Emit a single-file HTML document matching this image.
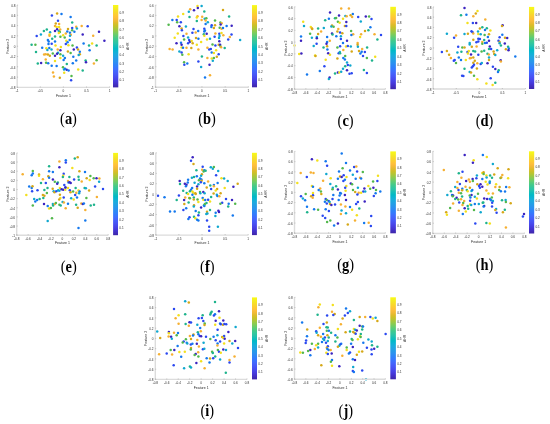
<!DOCTYPE html>
<html><head><meta charset="utf-8"><style>
html,body{margin:0;padding:0;background:#fff;}
svg{display:block;}
.tl{font-family:"Liberation Sans",Arial,sans-serif;font-size:3.1px;fill:#2a2a2a;}
.al{font-family:"Liberation Sans",Arial,sans-serif;font-size:3.5px;fill:#2a2a2a;}
.cap{font-family:"Liberation Serif","Times New Roman",serif;font-size:16.4px;fill:#000;}
</style></head><body>
<svg width="550" height="424" viewBox="0 0 550 424">
<rect width="550" height="424" fill="#fff"/>
<defs><linearGradient id="par" x1="0" y1="1" x2="0" y2="0"><stop offset="0.000" stop-color="#3e26a8"/><stop offset="0.031" stop-color="#422ebf"/><stop offset="0.062" stop-color="#4536d5"/><stop offset="0.094" stop-color="#4741e5"/><stop offset="0.125" stop-color="#484cef"/><stop offset="0.156" stop-color="#4757f7"/><stop offset="0.188" stop-color="#4562fc"/><stop offset="0.219" stop-color="#3f6efe"/><stop offset="0.250" stop-color="#347afd"/><stop offset="0.281" stop-color="#2e85f8"/><stop offset="0.312" stop-color="#2c90f0"/><stop offset="0.344" stop-color="#269ae9"/><stop offset="0.375" stop-color="#21a3e3"/><stop offset="0.406" stop-color="#1aacdd"/><stop offset="0.438" stop-color="#0cb3d3"/><stop offset="0.469" stop-color="#01b9c6"/><stop offset="0.500" stop-color="#12beb9"/><stop offset="0.531" stop-color="#28c2ab"/><stop offset="0.562" stop-color="#34c79c"/><stop offset="0.594" stop-color="#44ca8a"/><stop offset="0.625" stop-color="#5ccc76"/><stop offset="0.656" stop-color="#77cc60"/><stop offset="0.688" stop-color="#94ca4a"/><stop offset="0.719" stop-color="#afc637"/><stop offset="0.750" stop-color="#c8c129"/><stop offset="0.781" stop-color="#debc2a"/><stop offset="0.812" stop-color="#f1ba37"/><stop offset="0.844" stop-color="#febe3c"/><stop offset="0.875" stop-color="#feca33"/><stop offset="0.906" stop-color="#f9d62d"/><stop offset="0.938" stop-color="#f5e327"/><stop offset="0.969" stop-color="#f6ef20"/><stop offset="1.000" stop-color="#f9fb15"/></linearGradient><filter id="bl" x="-5%" y="-5%" width="110%" height="110%"><feGaussianBlur stdDeviation="0.3"/></filter></defs>
<g><circle cx="51.9" cy="15.5" r="1.25" fill="#2a48f0"/><circle cx="57.1" cy="13.4" r="1.25" fill="#d6a818"/><circle cx="61.5" cy="13.9" r="1.25" fill="#1478ee"/><circle cx="58.0" cy="20.8" r="1.25" fill="#2a48f0"/><circle cx="55.8" cy="23.5" r="1.25" fill="#d6a818"/><circle cx="59.1" cy="23.9" r="1.25" fill="#f6b032"/><circle cx="55.0" cy="26.0" r="1.25" fill="#f6b032"/><circle cx="56.6" cy="27.1" r="1.25" fill="#f3e01c"/><circle cx="59.1" cy="27.1" r="1.25" fill="#f3e01c"/><circle cx="57.1" cy="29.3" r="1.25" fill="#3b23c0"/><circle cx="55.0" cy="31.1" r="1.25" fill="#3b23c0"/><circle cx="58.8" cy="30.9" r="1.25" fill="#10a8cf"/><circle cx="60.2" cy="29.5" r="1.25" fill="#f6b032"/><circle cx="59.8" cy="32.0" r="1.25" fill="#52b84c"/><circle cx="58.8" cy="33.1" r="1.25" fill="#f3e01c"/><circle cx="46.8" cy="29.5" r="1.25" fill="#1eb38c"/><circle cx="43.9" cy="30.9" r="1.25" fill="#1eb38c"/><circle cx="50.1" cy="32.2" r="1.25" fill="#10a8cf"/><circle cx="49.5" cy="34.5" r="1.25" fill="#f3e01c"/><circle cx="49.5" cy="35.8" r="1.25" fill="#f6b032"/><circle cx="40.9" cy="34.5" r="1.25" fill="#10a8cf"/><circle cx="36.7" cy="36.0" r="1.25" fill="#2a48f0"/><circle cx="55.0" cy="36.4" r="1.25" fill="#1eb38c"/><circle cx="60.4" cy="36.7" r="1.25" fill="#52b84c"/><circle cx="63.1" cy="35.2" r="1.25" fill="#f3e01c"/><circle cx="64.7" cy="37.4" r="1.25" fill="#52b84c"/><circle cx="65.8" cy="33.6" r="1.25" fill="#f6b032"/><circle cx="52.2" cy="38.8" r="1.25" fill="#1eb38c"/><circle cx="47.9" cy="39.9" r="1.25" fill="#1478ee"/><circle cx="48.7" cy="41.4" r="1.25" fill="#1478ee"/><circle cx="55.0" cy="41.6" r="1.25" fill="#1478ee"/><circle cx="48.5" cy="43.9" r="1.25" fill="#1478ee"/><circle cx="51.7" cy="43.7" r="1.25" fill="#2a48f0"/><circle cx="31.6" cy="44.8" r="1.25" fill="#1eb38c"/><circle cx="35.4" cy="44.7" r="1.25" fill="#52b84c"/><circle cx="55.5" cy="45.6" r="1.25" fill="#f3e01c"/><circle cx="65.8" cy="43.9" r="1.25" fill="#2a48f0"/><circle cx="66.3" cy="40.7" r="1.25" fill="#f3e01c"/><circle cx="70.6" cy="17.0" r="1.25" fill="#1478ee"/><circle cx="72.2" cy="22.6" r="1.25" fill="#1eb38c"/><circle cx="76.2" cy="26.8" r="1.25" fill="#f6b032"/><circle cx="81.7" cy="26.0" r="1.25" fill="#f6b032"/><circle cx="87.7" cy="26.2" r="1.25" fill="#2a48f0"/><circle cx="72.2" cy="28.0" r="1.25" fill="#2a48f0"/><circle cx="76.9" cy="28.4" r="1.25" fill="#10a8cf"/><circle cx="68.0" cy="29.1" r="1.25" fill="#d6a818"/><circle cx="72.2" cy="30.2" r="1.25" fill="#52b84c"/><circle cx="67.3" cy="31.5" r="1.25" fill="#1478ee"/><circle cx="74.4" cy="31.7" r="1.25" fill="#1478ee"/><circle cx="70.0" cy="32.8" r="1.25" fill="#1478ee"/><circle cx="99.0" cy="31.8" r="1.25" fill="#3b23c0"/><circle cx="82.7" cy="34.5" r="1.25" fill="#3b23c0"/><circle cx="93.2" cy="35.8" r="1.25" fill="#f6b032"/><circle cx="70.8" cy="34.7" r="1.25" fill="#f6b032"/><circle cx="70.0" cy="35.8" r="1.25" fill="#10a8cf"/><circle cx="69.7" cy="39.9" r="1.25" fill="#1478ee"/><circle cx="67.6" cy="42.3" r="1.25" fill="#1478ee"/><circle cx="104.4" cy="40.8" r="1.25" fill="#3b23c0"/><circle cx="83.6" cy="43.6" r="1.25" fill="#1478ee"/><circle cx="92.1" cy="43.6" r="1.25" fill="#f3e01c"/><circle cx="68.4" cy="45.3" r="1.25" fill="#f3e01c"/><circle cx="72.5" cy="45.6" r="1.25" fill="#52b84c"/><circle cx="89.0" cy="45.6" r="1.25" fill="#1eb38c"/><circle cx="96.6" cy="45.6" r="1.25" fill="#1eb38c"/><circle cx="60.9" cy="47.0" r="1.25" fill="#f3e01c"/><circle cx="42.2" cy="47.8" r="1.25" fill="#1478ee"/><circle cx="46.3" cy="48.3" r="1.25" fill="#f3e01c"/><circle cx="49.3" cy="48.1" r="1.25" fill="#1478ee"/><circle cx="51.5" cy="49.4" r="1.25" fill="#10a8cf"/><circle cx="47.4" cy="50.0" r="1.25" fill="#10a8cf"/><circle cx="57.7" cy="49.4" r="1.25" fill="#f6b032"/><circle cx="60.4" cy="50.3" r="1.25" fill="#3b23c0"/><circle cx="36.0" cy="52.1" r="1.25" fill="#1eb38c"/><circle cx="52.8" cy="53.5" r="1.25" fill="#52b84c"/><circle cx="58.0" cy="52.7" r="1.25" fill="#10a8cf"/><circle cx="57.1" cy="53.8" r="1.25" fill="#3b23c0"/><circle cx="60.4" cy="54.3" r="1.25" fill="#52b84c"/><circle cx="44.1" cy="54.6" r="1.25" fill="#f6b032"/><circle cx="45.7" cy="54.3" r="1.25" fill="#f6b032"/><circle cx="47.9" cy="54.6" r="1.25" fill="#d6a818"/><circle cx="49.8" cy="55.7" r="1.25" fill="#d6a818"/><circle cx="55.0" cy="55.7" r="1.25" fill="#3b23c0"/><circle cx="63.1" cy="55.7" r="1.25" fill="#10a8cf"/><circle cx="60.4" cy="58.1" r="1.25" fill="#f3e01c"/><circle cx="64.9" cy="57.9" r="1.25" fill="#1478ee"/><circle cx="45.7" cy="59.4" r="1.25" fill="#f6b032"/><circle cx="55.0" cy="61.0" r="1.25" fill="#f3e01c"/><circle cx="63.6" cy="60.1" r="1.25" fill="#1478ee"/><circle cx="41.1" cy="63.0" r="1.25" fill="#3b23c0"/><circle cx="37.8" cy="63.5" r="1.25" fill="#1eb38c"/><circle cx="46.1" cy="62.7" r="1.25" fill="#52b84c"/><circle cx="48.2" cy="63.2" r="1.25" fill="#1478ee"/><circle cx="51.7" cy="65.7" r="1.25" fill="#1478ee"/><circle cx="56.6" cy="66.0" r="1.25" fill="#1478ee"/><circle cx="63.0" cy="67.2" r="1.25" fill="#52b84c"/><circle cx="64.0" cy="69.5" r="1.25" fill="#10a8cf"/><circle cx="66.7" cy="69.8" r="1.25" fill="#3b23c0"/><circle cx="53.0" cy="72.4" r="1.25" fill="#f6b032"/><circle cx="64.2" cy="72.7" r="1.25" fill="#f3e01c"/><circle cx="53.9" cy="76.5" r="1.25" fill="#f6b032"/><circle cx="59.8" cy="77.8" r="1.25" fill="#d6a818"/><circle cx="76.9" cy="47.5" r="1.25" fill="#2a48f0"/><circle cx="73.8" cy="49.6" r="1.25" fill="#3b23c0"/><circle cx="78.0" cy="49.6" r="1.25" fill="#d6a818"/><circle cx="89.6" cy="50.3" r="1.25" fill="#1478ee"/><circle cx="67.9" cy="51.6" r="1.25" fill="#d6a818"/><circle cx="70.6" cy="52.9" r="1.25" fill="#52b84c"/><circle cx="79.8" cy="51.8" r="1.25" fill="#1478ee"/><circle cx="79.8" cy="54.3" r="1.25" fill="#d6a818"/><circle cx="78.7" cy="55.1" r="1.25" fill="#10a8cf"/><circle cx="73.3" cy="56.8" r="1.25" fill="#1478ee"/><circle cx="76.2" cy="60.5" r="1.25" fill="#1478ee"/><circle cx="85.6" cy="60.5" r="1.25" fill="#1eb38c"/><circle cx="86.0" cy="62.2" r="1.25" fill="#3b23c0"/><circle cx="96.6" cy="60.3" r="1.25" fill="#52b84c"/><circle cx="93.9" cy="63.5" r="1.25" fill="#f6b032"/><circle cx="66.8" cy="64.1" r="1.25" fill="#1eb38c"/><circle cx="72.8" cy="63.3" r="1.25" fill="#1478ee"/><circle cx="65.0" cy="68.7" r="1.25" fill="#1478ee"/><circle cx="68.6" cy="70.6" r="1.25" fill="#1478ee"/><circle cx="78.2" cy="69.5" r="1.25" fill="#f3e01c"/><circle cx="82.7" cy="70.6" r="1.25" fill="#1eb38c"/><circle cx="71.5" cy="76.0" r="1.25" fill="#52b84c"/><circle cx="71.1" cy="80.3" r="1.25" fill="#2a48f0"/><path d="M17.20 5.00V87.40H109.60" fill="none" stroke="#dcdcdc" stroke-width="1.4"/><path d="M17.20 87.40v-0.9M40.30 87.40v-0.9M63.40 87.40v-0.9M86.50 87.40v-0.9M109.60 87.40v-0.9M17.20 87.40h0.9M17.20 77.10h0.9M17.20 66.80h0.9M17.20 56.50h0.9M17.20 46.20h0.9M17.20 35.90h0.9M17.20 25.60h0.9M17.20 15.30h0.9M17.20 5.00h0.9" stroke="#909090" stroke-width="0.5"/><rect x="113.00" y="5.00" width="5.30" height="82.40" fill="url(#par)"/></g><g filter="url(#bl)"><text x="17.20" y="92.20" class="tl" text-anchor="middle">-1</text><text x="40.30" y="92.20" class="tl" text-anchor="middle">-0.5</text><text x="63.40" y="92.20" class="tl" text-anchor="middle">0</text><text x="86.50" y="92.20" class="tl" text-anchor="middle">0.5</text><text x="109.60" y="92.20" class="tl" text-anchor="middle">1</text><text x="15.50" y="89.20" class="tl" text-anchor="end">-0.8</text><text x="15.50" y="78.90" class="tl" text-anchor="end">-0.6</text><text x="15.50" y="68.60" class="tl" text-anchor="end">-0.4</text><text x="15.50" y="58.30" class="tl" text-anchor="end">-0.2</text><text x="15.50" y="48.00" class="tl" text-anchor="end">0</text><text x="15.50" y="37.70" class="tl" text-anchor="end">0.2</text><text x="15.50" y="27.40" class="tl" text-anchor="end">0.4</text><text x="15.50" y="17.10" class="tl" text-anchor="end">0.6</text><text x="15.50" y="6.80" class="tl" text-anchor="end">0.8</text><text x="63.40" y="96.60" class="al" text-anchor="middle">Feature 1</text><text class="al" text-anchor="middle" transform="translate(9.20 46.20) rotate(-90)">Feature 2</text><text x="119.60" y="81.44" class="tl">0.1</text><text x="119.60" y="72.98" class="tl">0.2</text><text x="119.60" y="64.52" class="tl">0.3</text><text x="119.60" y="56.06" class="tl">0.4</text><text x="119.60" y="47.60" class="tl">0.5</text><text x="119.60" y="39.14" class="tl">0.6</text><text x="119.60" y="30.68" class="tl">0.7</text><text x="119.60" y="22.22" class="tl">0.8</text><text x="119.60" y="13.76" class="tl">0.9</text><text class="al" text-anchor="middle" transform="translate(128.80 46.20) rotate(-90)">AHR</text></g><text class="cap" text-anchor="middle" transform="translate(68.50 123.50) scale(0.88 1)">(<tspan font-weight="bold">a</tspan>)</text>
<g><circle cx="197.5" cy="6.0" r="1.25" fill="#f3e01c"/><circle cx="201.6" cy="6.0" r="1.25" fill="#10a8cf"/><circle cx="197.8" cy="8.1" r="1.25" fill="#3b23c0"/><circle cx="190.2" cy="9.2" r="1.25" fill="#f6b032"/><circle cx="194.0" cy="10.3" r="1.25" fill="#3b23c0"/><circle cx="188.8" cy="11.7" r="1.25" fill="#10a8cf"/><circle cx="204.3" cy="11.4" r="1.25" fill="#1eb38c"/><circle cx="183.2" cy="14.1" r="1.25" fill="#f3e01c"/><circle cx="178.0" cy="16.5" r="1.25" fill="#f3e01c"/><circle cx="189.5" cy="17.0" r="1.25" fill="#1eb38c"/><circle cx="197.5" cy="16.3" r="1.25" fill="#f6b032"/><circle cx="196.8" cy="17.6" r="1.25" fill="#f3e01c"/><circle cx="202.2" cy="16.8" r="1.25" fill="#f6b032"/><circle cx="204.7" cy="18.7" r="1.25" fill="#10a8cf"/><circle cx="201.6" cy="20.1" r="1.25" fill="#f6b032"/><circle cx="196.8" cy="21.1" r="1.25" fill="#1eb38c"/><circle cx="172.4" cy="20.1" r="1.25" fill="#1478ee"/><circle cx="176.7" cy="20.1" r="1.25" fill="#2a48f0"/><circle cx="177.2" cy="22.2" r="1.25" fill="#52b84c"/><circle cx="180.8" cy="22.2" r="1.25" fill="#2a48f0"/><circle cx="168.6" cy="24.7" r="1.25" fill="#52b84c"/><circle cx="179.4" cy="26.2" r="1.25" fill="#3b23c0"/><circle cx="185.9" cy="26.6" r="1.25" fill="#10a8cf"/><circle cx="181.6" cy="28.4" r="1.25" fill="#d6a818"/><circle cx="181.9" cy="30.2" r="1.25" fill="#2a48f0"/><circle cx="193.5" cy="29.0" r="1.25" fill="#2a48f0"/><circle cx="198.2" cy="30.9" r="1.25" fill="#1478ee"/><circle cx="192.4" cy="32.8" r="1.25" fill="#2a48f0"/><circle cx="195.7" cy="32.5" r="1.25" fill="#f6b032"/><circle cx="204.3" cy="28.7" r="1.25" fill="#2a48f0"/><circle cx="204.3" cy="31.5" r="1.25" fill="#1478ee"/><circle cx="203.8" cy="34.2" r="1.25" fill="#1eb38c"/><circle cx="204.3" cy="35.8" r="1.25" fill="#f3e01c"/><circle cx="177.8" cy="33.6" r="1.25" fill="#f3e01c"/><circle cx="186.5" cy="33.8" r="1.25" fill="#f6b032"/><circle cx="183.4" cy="36.0" r="1.25" fill="#2a48f0"/><circle cx="188.1" cy="37.4" r="1.25" fill="#10a8cf"/><circle cx="174.7" cy="37.7" r="1.25" fill="#f3e01c"/><circle cx="184.1" cy="39.6" r="1.25" fill="#52b84c"/><circle cx="196.0" cy="38.0" r="1.25" fill="#d6a818"/><circle cx="198.4" cy="38.8" r="1.25" fill="#1478ee"/><circle cx="189.2" cy="40.1" r="1.25" fill="#2a48f0"/><circle cx="189.9" cy="41.8" r="1.25" fill="#3b23c0"/><circle cx="191.7" cy="41.0" r="1.25" fill="#f3e01c"/><circle cx="192.7" cy="43.2" r="1.25" fill="#d6a818"/><circle cx="188.1" cy="43.2" r="1.25" fill="#2a48f0"/><circle cx="176.5" cy="43.2" r="1.25" fill="#3b23c0"/><circle cx="181.0" cy="42.8" r="1.25" fill="#1478ee"/><circle cx="181.6" cy="44.7" r="1.25" fill="#3b23c0"/><circle cx="196.8" cy="44.7" r="1.25" fill="#f3e01c"/><circle cx="201.1" cy="42.1" r="1.25" fill="#f3e01c"/><circle cx="223.0" cy="10.0" r="1.25" fill="#d6a818"/><circle cx="229.1" cy="16.5" r="1.25" fill="#1eb38c"/><circle cx="206.3" cy="18.2" r="1.25" fill="#52b84c"/><circle cx="205.6" cy="20.6" r="1.25" fill="#f6b032"/><circle cx="207.8" cy="22.2" r="1.25" fill="#10a8cf"/><circle cx="215.0" cy="20.6" r="1.25" fill="#52b84c"/><circle cx="220.4" cy="22.6" r="1.25" fill="#52b84c"/><circle cx="221.7" cy="23.3" r="1.25" fill="#f6b032"/><circle cx="220.6" cy="24.4" r="1.25" fill="#3b23c0"/><circle cx="205.6" cy="23.9" r="1.25" fill="#1478ee"/><circle cx="211.7" cy="25.2" r="1.25" fill="#2a48f0"/><circle cx="211.4" cy="26.9" r="1.25" fill="#1478ee"/><circle cx="215.0" cy="25.2" r="1.25" fill="#d6a818"/><circle cx="213.9" cy="28.0" r="1.25" fill="#d6a818"/><circle cx="219.7" cy="27.7" r="1.25" fill="#52b84c"/><circle cx="221.5" cy="28.7" r="1.25" fill="#f6b032"/><circle cx="223.0" cy="28.0" r="1.25" fill="#1478ee"/><circle cx="226.6" cy="26.0" r="1.25" fill="#1478ee"/><circle cx="231.7" cy="25.8" r="1.25" fill="#3b23c0"/><circle cx="204.9" cy="30.4" r="1.25" fill="#1478ee"/><circle cx="206.7" cy="33.8" r="1.25" fill="#3b23c0"/><circle cx="215.4" cy="33.4" r="1.25" fill="#f6b032"/><circle cx="219.3" cy="33.8" r="1.25" fill="#2a48f0"/><circle cx="221.5" cy="33.1" r="1.25" fill="#f3e01c"/><circle cx="223.3" cy="35.2" r="1.25" fill="#f6b032"/><circle cx="219.5" cy="36.0" r="1.25" fill="#10a8cf"/><circle cx="214.6" cy="36.7" r="1.25" fill="#2a48f0"/><circle cx="231.5" cy="34.5" r="1.25" fill="#2a48f0"/><circle cx="229.8" cy="36.9" r="1.25" fill="#f6b032"/><circle cx="219.0" cy="38.0" r="1.25" fill="#10a8cf"/><circle cx="207.0" cy="39.6" r="1.25" fill="#f3e01c"/><circle cx="210.0" cy="38.8" r="1.25" fill="#10a8cf"/><circle cx="228.2" cy="39.6" r="1.25" fill="#2a48f0"/><circle cx="240.1" cy="40.1" r="1.25" fill="#10a8cf"/><circle cx="219.3" cy="41.2" r="1.25" fill="#3b23c0"/><circle cx="212.5" cy="44.5" r="1.25" fill="#52b84c"/><circle cx="215.4" cy="45.5" r="1.25" fill="#2a48f0"/><circle cx="218.7" cy="44.7" r="1.25" fill="#d6a818"/><circle cx="220.1" cy="44.7" r="1.25" fill="#3b23c0"/><circle cx="169.6" cy="48.9" r="1.25" fill="#f6b032"/><circle cx="172.6" cy="49.6" r="1.25" fill="#f6b032"/><circle cx="181.6" cy="47.5" r="1.25" fill="#f3e01c"/><circle cx="183.0" cy="47.8" r="1.25" fill="#1478ee"/><circle cx="186.5" cy="47.8" r="1.25" fill="#f6b032"/><circle cx="191.3" cy="48.1" r="1.25" fill="#d6a818"/><circle cx="198.4" cy="49.6" r="1.25" fill="#f6b032"/><circle cx="179.4" cy="51.4" r="1.25" fill="#10a8cf"/><circle cx="181.6" cy="52.5" r="1.25" fill="#2a48f0"/><circle cx="182.3" cy="54.8" r="1.25" fill="#52b84c"/><circle cx="188.6" cy="54.3" r="1.25" fill="#f3e01c"/><circle cx="201.9" cy="56.5" r="1.25" fill="#1eb38c"/><circle cx="184.1" cy="62.2" r="1.25" fill="#52b84c"/><circle cx="187.3" cy="63.5" r="1.25" fill="#1478ee"/><circle cx="184.3" cy="64.8" r="1.25" fill="#2a48f0"/><circle cx="198.4" cy="61.4" r="1.25" fill="#2a48f0"/><circle cx="201.1" cy="67.0" r="1.25" fill="#10a8cf"/><circle cx="205.0" cy="77.6" r="1.25" fill="#1478ee"/><circle cx="220.6" cy="46.4" r="1.25" fill="#52b84c"/><circle cx="221.1" cy="47.3" r="1.25" fill="#f6b032"/><circle cx="224.7" cy="48.1" r="1.25" fill="#1eb38c"/><circle cx="207.4" cy="47.8" r="1.25" fill="#f6b032"/><circle cx="210.8" cy="48.9" r="1.25" fill="#2a48f0"/><circle cx="209.2" cy="49.6" r="1.25" fill="#2a48f0"/><circle cx="216.1" cy="50.3" r="1.25" fill="#f3e01c"/><circle cx="211.7" cy="52.5" r="1.25" fill="#1478ee"/><circle cx="213.9" cy="52.9" r="1.25" fill="#f3e01c"/><circle cx="218.7" cy="54.3" r="1.25" fill="#2a48f0"/><circle cx="207.4" cy="57.9" r="1.25" fill="#f6b032"/><circle cx="211.7" cy="58.6" r="1.25" fill="#f3e01c"/><circle cx="213.9" cy="57.9" r="1.25" fill="#52b84c"/><circle cx="216.8" cy="56.8" r="1.25" fill="#d6a818"/><circle cx="212.8" cy="60.8" r="1.25" fill="#10a8cf"/><circle cx="209.5" cy="64.8" r="1.25" fill="#3b23c0"/><circle cx="210.0" cy="75.2" r="1.25" fill="#f6b032"/><path d="M155.50 5.10V87.30H248.40" fill="none" stroke="#dcdcdc" stroke-width="1.4"/><path d="M155.50 87.30v-0.9M178.72 87.30v-0.9M201.95 87.30v-0.9M225.18 87.30v-0.9M248.40 87.30v-0.9M155.50 87.30h0.9M155.50 77.03h0.9M155.50 66.75h0.9M155.50 56.48h0.9M155.50 46.20h0.9M155.50 35.92h0.9M155.50 25.65h0.9M155.50 15.38h0.9M155.50 5.10h0.9" stroke="#909090" stroke-width="0.5"/><rect x="252.00" y="5.10" width="5.00" height="82.20" fill="url(#par)"/></g><g filter="url(#bl)"><text x="155.50" y="92.10" class="tl" text-anchor="middle">-1</text><text x="178.72" y="92.10" class="tl" text-anchor="middle">-0.5</text><text x="201.95" y="92.10" class="tl" text-anchor="middle">0</text><text x="225.18" y="92.10" class="tl" text-anchor="middle">0.5</text><text x="248.40" y="92.10" class="tl" text-anchor="middle">1</text><text x="153.80" y="89.10" class="tl" text-anchor="end">-1</text><text x="153.80" y="78.83" class="tl" text-anchor="end">-0.8</text><text x="153.80" y="68.55" class="tl" text-anchor="end">-0.6</text><text x="153.80" y="58.27" class="tl" text-anchor="end">-0.4</text><text x="153.80" y="48.00" class="tl" text-anchor="end">-0.2</text><text x="153.80" y="37.72" class="tl" text-anchor="end">0</text><text x="153.80" y="27.45" class="tl" text-anchor="end">0.2</text><text x="153.80" y="17.18" class="tl" text-anchor="end">0.4</text><text x="153.80" y="6.90" class="tl" text-anchor="end">0.6</text><text x="201.95" y="96.50" class="al" text-anchor="middle">Feature 1</text><text class="al" text-anchor="middle" transform="translate(147.50 46.20) rotate(-90)">Feature 2</text><text x="258.30" y="81.36" class="tl">0.1</text><text x="258.30" y="72.92" class="tl">0.2</text><text x="258.30" y="64.48" class="tl">0.3</text><text x="258.30" y="56.04" class="tl">0.4</text><text x="258.30" y="47.60" class="tl">0.5</text><text x="258.30" y="39.16" class="tl">0.6</text><text x="258.30" y="30.72" class="tl">0.7</text><text x="258.30" y="22.28" class="tl">0.8</text><text x="258.30" y="13.84" class="tl">0.9</text><text class="al" text-anchor="middle" transform="translate(267.50 46.20) rotate(-90)">AHR</text></g><text class="cap" text-anchor="middle" transform="translate(207.10 123.60) scale(0.88 1)">(<tspan font-weight="bold">b</tspan>)</text>
<g><circle cx="341.2" cy="8.5" r="1.25" fill="#f6b032"/><circle cx="330.0" cy="12.6" r="1.25" fill="#3b23c0"/><circle cx="339.0" cy="15.6" r="1.25" fill="#3b23c0"/><circle cx="328.9" cy="18.8" r="1.25" fill="#1478ee"/><circle cx="335.0" cy="18.3" r="1.25" fill="#1eb38c"/><circle cx="336.1" cy="18.1" r="1.25" fill="#52b84c"/><circle cx="343.0" cy="18.8" r="1.25" fill="#f3e01c"/><circle cx="325.2" cy="20.2" r="1.25" fill="#1eb38c"/><circle cx="303.2" cy="21.7" r="1.25" fill="#f3e01c"/><circle cx="337.9" cy="21.7" r="1.25" fill="#52b84c"/><circle cx="339.6" cy="22.8" r="1.25" fill="#f3e01c"/><circle cx="304.0" cy="26.1" r="1.25" fill="#10a8cf"/><circle cx="332.0" cy="25.6" r="1.25" fill="#d6a818"/><circle cx="331.4" cy="26.4" r="1.25" fill="#10a8cf"/><circle cx="333.6" cy="26.7" r="1.25" fill="#52b84c"/><circle cx="310.8" cy="26.9" r="1.25" fill="#f3e01c"/><circle cx="311.9" cy="28.2" r="1.25" fill="#f6b032"/><circle cx="312.2" cy="29.1" r="1.25" fill="#d6a818"/><circle cx="318.1" cy="28.4" r="1.25" fill="#1eb38c"/><circle cx="323.8" cy="28.0" r="1.25" fill="#10a8cf"/><circle cx="338.3" cy="29.1" r="1.25" fill="#f6b032"/><circle cx="337.4" cy="31.5" r="1.25" fill="#d6a818"/><circle cx="340.1" cy="32.4" r="1.25" fill="#2a48f0"/><circle cx="342.3" cy="33.2" r="1.25" fill="#d6a818"/><circle cx="321.1" cy="31.5" r="1.25" fill="#f6b032"/><circle cx="310.1" cy="33.7" r="1.25" fill="#52b84c"/><circle cx="318.1" cy="34.0" r="1.25" fill="#d6a818"/><circle cx="332.0" cy="33.5" r="1.25" fill="#3b23c0"/><circle cx="332.5" cy="34.5" r="1.25" fill="#1eb38c"/><circle cx="336.3" cy="36.2" r="1.25" fill="#1478ee"/><circle cx="340.9" cy="36.2" r="1.25" fill="#10a8cf"/><circle cx="340.9" cy="39.1" r="1.25" fill="#2a48f0"/><circle cx="301.0" cy="36.5" r="1.25" fill="#1478ee"/><circle cx="311.9" cy="37.8" r="1.25" fill="#10a8cf"/><circle cx="316.8" cy="36.9" r="1.25" fill="#10a8cf"/><circle cx="316.8" cy="38.3" r="1.25" fill="#3b23c0"/><circle cx="327.1" cy="36.9" r="1.25" fill="#1478ee"/><circle cx="301.0" cy="40.8" r="1.25" fill="#3b23c0"/><circle cx="329.8" cy="40.8" r="1.25" fill="#f6b032"/><circle cx="327.1" cy="41.9" r="1.25" fill="#1478ee"/><circle cx="326.5" cy="43.8" r="1.25" fill="#3b23c0"/><circle cx="316.6" cy="43.8" r="1.25" fill="#2a48f0"/><circle cx="343.0" cy="43.0" r="1.25" fill="#1478ee"/><circle cx="294.5" cy="45.6" r="1.25" fill="#f3e01c"/><circle cx="313.7" cy="45.9" r="1.25" fill="#10a8cf"/><circle cx="327.1" cy="46.3" r="1.25" fill="#d6a818"/><circle cx="323.5" cy="47.6" r="1.25" fill="#1eb38c"/><circle cx="340.1" cy="46.3" r="1.25" fill="#2a48f0"/><circle cx="337.4" cy="47.6" r="1.25" fill="#52b84c"/><circle cx="348.9" cy="8.5" r="1.25" fill="#f6b032"/><circle cx="352.8" cy="13.9" r="1.25" fill="#1478ee"/><circle cx="350.6" cy="15.2" r="1.25" fill="#d6a818"/><circle cx="352.1" cy="17.0" r="1.25" fill="#f6b032"/><circle cx="345.4" cy="16.1" r="1.25" fill="#10a8cf"/><circle cx="346.7" cy="16.3" r="1.25" fill="#f6b032"/><circle cx="358.2" cy="17.0" r="1.25" fill="#2a48f0"/><circle cx="365.8" cy="16.6" r="1.25" fill="#3b23c0"/><circle cx="369.1" cy="16.6" r="1.25" fill="#52b84c"/><circle cx="371.5" cy="19.1" r="1.25" fill="#2a48f0"/><circle cx="360.8" cy="21.5" r="1.25" fill="#10a8cf"/><circle cx="346.3" cy="22.1" r="1.25" fill="#3b23c0"/><circle cx="344.9" cy="26.1" r="1.25" fill="#d6a818"/><circle cx="346.3" cy="26.1" r="1.25" fill="#2a48f0"/><circle cx="370.4" cy="27.2" r="1.25" fill="#1478ee"/><circle cx="351.1" cy="31.1" r="1.25" fill="#52b84c"/><circle cx="365.0" cy="31.1" r="1.25" fill="#d6a818"/><circle cx="368.4" cy="30.2" r="1.25" fill="#1eb38c"/><circle cx="353.2" cy="34.3" r="1.25" fill="#f6b032"/><circle cx="351.4" cy="35.1" r="1.25" fill="#1478ee"/><circle cx="361.1" cy="34.3" r="1.25" fill="#f6b032"/><circle cx="374.5" cy="34.3" r="1.25" fill="#f6b032"/><circle cx="381.0" cy="35.1" r="1.25" fill="#2a48f0"/><circle cx="360.1" cy="36.9" r="1.25" fill="#f3e01c"/><circle cx="377.4" cy="39.4" r="1.25" fill="#1eb38c"/><circle cx="347.0" cy="40.8" r="1.25" fill="#3b23c0"/><circle cx="357.6" cy="43.0" r="1.25" fill="#f6b032"/><circle cx="357.6" cy="44.8" r="1.25" fill="#d6a818"/><circle cx="357.9" cy="46.7" r="1.25" fill="#10a8cf"/><circle cx="346.0" cy="46.5" r="1.25" fill="#f3e01c"/><circle cx="347.8" cy="45.9" r="1.25" fill="#2a48f0"/><circle cx="350.8" cy="46.5" r="1.25" fill="#10a8cf"/><circle cx="367.1" cy="47.6" r="1.25" fill="#1eb38c"/><circle cx="327.4" cy="49.6" r="1.25" fill="#1478ee"/><circle cx="299.2" cy="54.0" r="1.25" fill="#f3e01c"/><circle cx="301.4" cy="53.5" r="1.25" fill="#3b23c0"/><circle cx="315.1" cy="55.4" r="1.25" fill="#f3e01c"/><circle cx="315.5" cy="56.1" r="1.25" fill="#d6a818"/><circle cx="328.2" cy="53.2" r="1.25" fill="#3b23c0"/><circle cx="330.0" cy="54.8" r="1.25" fill="#f3e01c"/><circle cx="338.7" cy="53.2" r="1.25" fill="#2a48f0"/><circle cx="339.8" cy="52.1" r="1.25" fill="#10a8cf"/><circle cx="340.1" cy="53.2" r="1.25" fill="#1eb38c"/><circle cx="343.3" cy="50.0" r="1.25" fill="#f6b032"/><circle cx="337.4" cy="58.6" r="1.25" fill="#d6a818"/><circle cx="343.3" cy="58.1" r="1.25" fill="#1478ee"/><circle cx="325.7" cy="59.7" r="1.25" fill="#f3e01c"/><circle cx="324.4" cy="66.2" r="1.25" fill="#2a48f0"/><circle cx="319.8" cy="70.9" r="1.25" fill="#1478ee"/><circle cx="307.0" cy="74.6" r="1.25" fill="#1478ee"/><circle cx="335.0" cy="73.5" r="1.25" fill="#1eb38c"/><circle cx="337.9" cy="72.4" r="1.25" fill="#3b23c0"/><circle cx="339.3" cy="72.4" r="1.25" fill="#f3e01c"/><circle cx="341.2" cy="71.7" r="1.25" fill="#10a8cf"/><circle cx="343.0" cy="68.7" r="1.25" fill="#10a8cf"/><circle cx="329.6" cy="77.4" r="1.25" fill="#3b23c0"/><circle cx="328.9" cy="78.9" r="1.25" fill="#10a8cf"/><circle cx="362.2" cy="48.9" r="1.25" fill="#f6b032"/><circle cx="351.7" cy="51.4" r="1.25" fill="#d6a818"/><circle cx="359.0" cy="51.0" r="1.25" fill="#d6a818"/><circle cx="361.7" cy="51.8" r="1.25" fill="#1478ee"/><circle cx="364.9" cy="52.1" r="1.25" fill="#2a48f0"/><circle cx="360.4" cy="53.5" r="1.25" fill="#1478ee"/><circle cx="363.0" cy="56.1" r="1.25" fill="#2a48f0"/><circle cx="345.2" cy="56.1" r="1.25" fill="#52b84c"/><circle cx="366.9" cy="57.9" r="1.25" fill="#52b84c"/><circle cx="375.2" cy="56.8" r="1.25" fill="#f3e01c"/><circle cx="372.0" cy="60.5" r="1.25" fill="#1eb38c"/><circle cx="344.9" cy="59.4" r="1.25" fill="#1478ee"/><circle cx="347.0" cy="62.4" r="1.25" fill="#10a8cf"/><circle cx="345.2" cy="66.2" r="1.25" fill="#1eb38c"/><circle cx="347.8" cy="65.1" r="1.25" fill="#2a48f0"/><circle cx="350.3" cy="65.5" r="1.25" fill="#10a8cf"/><circle cx="347.0" cy="70.2" r="1.25" fill="#3b23c0"/><circle cx="349.5" cy="73.8" r="1.25" fill="#2a48f0"/><circle cx="351.7" cy="73.3" r="1.25" fill="#2a48f0"/><circle cx="363.9" cy="70.0" r="1.25" fill="#1eb38c"/><circle cx="366.9" cy="73.1" r="1.25" fill="#2a48f0"/><path d="M294.50 6.80V89.20H385.40" fill="none" stroke="#dcdcdc" stroke-width="1.4"/><path d="M294.50 89.20v-0.9M305.86 89.20v-0.9M317.23 89.20v-0.9M328.59 89.20v-0.9M339.95 89.20v-0.9M351.31 89.20v-0.9M362.68 89.20v-0.9M374.04 89.20v-0.9M385.40 89.20v-0.9M294.50 89.20h0.9M294.50 77.43h0.9M294.50 65.66h0.9M294.50 53.89h0.9M294.50 42.11h0.9M294.50 30.34h0.9M294.50 18.57h0.9M294.50 6.80h0.9" stroke="#909090" stroke-width="0.5"/><rect x="390.30" y="6.80" width="5.60" height="82.40" fill="url(#par)"/></g><g filter="url(#bl)"><text x="294.50" y="94.00" class="tl" text-anchor="middle">-0.8</text><text x="305.86" y="94.00" class="tl" text-anchor="middle">-0.6</text><text x="317.23" y="94.00" class="tl" text-anchor="middle">-0.4</text><text x="328.59" y="94.00" class="tl" text-anchor="middle">-0.2</text><text x="339.95" y="94.00" class="tl" text-anchor="middle">0</text><text x="351.31" y="94.00" class="tl" text-anchor="middle">0.2</text><text x="362.68" y="94.00" class="tl" text-anchor="middle">0.4</text><text x="374.04" y="94.00" class="tl" text-anchor="middle">0.6</text><text x="385.40" y="94.00" class="tl" text-anchor="middle">0.8</text><text x="292.80" y="91.00" class="tl" text-anchor="end">-0.8</text><text x="292.80" y="79.23" class="tl" text-anchor="end">-0.6</text><text x="292.80" y="67.46" class="tl" text-anchor="end">-0.4</text><text x="292.80" y="55.69" class="tl" text-anchor="end">-0.2</text><text x="292.80" y="43.91" class="tl" text-anchor="end">0</text><text x="292.80" y="32.14" class="tl" text-anchor="end">0.2</text><text x="292.80" y="20.37" class="tl" text-anchor="end">0.4</text><text x="292.80" y="8.60" class="tl" text-anchor="end">0.6</text><text x="339.95" y="98.40" class="al" text-anchor="middle">Feature 1</text><text class="al" text-anchor="middle" transform="translate(286.50 48.00) rotate(-90)">Feature 2</text><text x="397.20" y="83.24" class="tl">0.1</text><text x="397.20" y="74.78" class="tl">0.2</text><text x="397.20" y="66.32" class="tl">0.3</text><text x="397.20" y="57.86" class="tl">0.4</text><text x="397.20" y="49.40" class="tl">0.5</text><text x="397.20" y="40.94" class="tl">0.6</text><text x="397.20" y="32.48" class="tl">0.7</text><text x="397.20" y="24.02" class="tl">0.8</text><text x="397.20" y="15.56" class="tl">0.9</text><text class="al" text-anchor="middle" transform="translate(406.40 48.00) rotate(-90)">AHR</text></g><text class="cap" text-anchor="middle" transform="translate(345.60 125.50) scale(0.88 1)">(<tspan font-weight="bold">c</tspan>)</text>
<g><circle cx="464.5" cy="8.0" r="1.25" fill="#3b23c0"/><circle cx="477.5" cy="10.9" r="1.25" fill="#f3e01c"/><circle cx="475.8" cy="13.4" r="1.25" fill="#d6a818"/><circle cx="461.0" cy="15.2" r="1.25" fill="#1eb38c"/><circle cx="466.4" cy="14.8" r="1.25" fill="#1478ee"/><circle cx="473.3" cy="16.3" r="1.25" fill="#f6b032"/><circle cx="467.5" cy="23.1" r="1.25" fill="#f3e01c"/><circle cx="472.9" cy="23.1" r="1.25" fill="#2a48f0"/><circle cx="476.2" cy="23.1" r="1.25" fill="#3b23c0"/><circle cx="479.9" cy="28.6" r="1.25" fill="#d6a818"/><circle cx="482.3" cy="27.2" r="1.25" fill="#1eb38c"/><circle cx="446.9" cy="33.7" r="1.25" fill="#10a8cf"/><circle cx="456.0" cy="35.4" r="1.25" fill="#f6b032"/><circle cx="454.1" cy="37.8" r="1.25" fill="#2a48f0"/><circle cx="464.5" cy="34.0" r="1.25" fill="#10a8cf"/><circle cx="467.9" cy="33.7" r="1.25" fill="#d6a818"/><circle cx="471.5" cy="31.3" r="1.25" fill="#2a48f0"/><circle cx="472.6" cy="32.2" r="1.25" fill="#2a48f0"/><circle cx="473.3" cy="33.5" r="1.25" fill="#f6b032"/><circle cx="478.0" cy="31.5" r="1.25" fill="#10a8cf"/><circle cx="478.3" cy="34.0" r="1.25" fill="#f3e01c"/><circle cx="480.7" cy="34.3" r="1.25" fill="#10a8cf"/><circle cx="473.3" cy="39.7" r="1.25" fill="#d6a818"/><circle cx="478.3" cy="38.7" r="1.25" fill="#2a48f0"/><circle cx="479.9" cy="38.9" r="1.25" fill="#2a48f0"/><circle cx="476.4" cy="42.3" r="1.25" fill="#2a48f0"/><circle cx="478.3" cy="41.6" r="1.25" fill="#2a48f0"/><circle cx="482.3" cy="42.1" r="1.25" fill="#f6b032"/><circle cx="482.3" cy="43.8" r="1.25" fill="#52b84c"/><circle cx="469.7" cy="43.0" r="1.25" fill="#10a8cf"/><circle cx="469.7" cy="44.5" r="1.25" fill="#10a8cf"/><circle cx="458.2" cy="46.7" r="1.25" fill="#2a48f0"/><circle cx="462.3" cy="47.6" r="1.25" fill="#52b84c"/><circle cx="464.5" cy="47.6" r="1.25" fill="#d6a818"/><circle cx="471.8" cy="46.7" r="1.25" fill="#d6a818"/><circle cx="476.6" cy="46.5" r="1.25" fill="#f6b032"/><circle cx="485.3" cy="19.4" r="1.25" fill="#f6b032"/><circle cx="502.6" cy="25.3" r="1.25" fill="#3b23c0"/><circle cx="502.0" cy="25.9" r="1.25" fill="#d6a818"/><circle cx="486.8" cy="28.2" r="1.25" fill="#1eb38c"/><circle cx="485.0" cy="30.0" r="1.25" fill="#1478ee"/><circle cx="490.4" cy="30.4" r="1.25" fill="#f3e01c"/><circle cx="484.6" cy="35.1" r="1.25" fill="#52b84c"/><circle cx="489.0" cy="34.3" r="1.25" fill="#d6a818"/><circle cx="487.9" cy="36.9" r="1.25" fill="#1478ee"/><circle cx="502.3" cy="34.8" r="1.25" fill="#1478ee"/><circle cx="499.6" cy="37.2" r="1.25" fill="#2a48f0"/><circle cx="505.0" cy="37.8" r="1.25" fill="#d6a818"/><circle cx="507.2" cy="38.0" r="1.25" fill="#3b23c0"/><circle cx="484.2" cy="40.0" r="1.25" fill="#1eb38c"/><circle cx="489.0" cy="40.8" r="1.25" fill="#3b23c0"/><circle cx="486.8" cy="42.7" r="1.25" fill="#2a48f0"/><circle cx="485.0" cy="43.0" r="1.25" fill="#1478ee"/><circle cx="498.5" cy="40.8" r="1.25" fill="#2a48f0"/><circle cx="499.6" cy="41.9" r="1.25" fill="#d6a818"/><circle cx="499.6" cy="43.2" r="1.25" fill="#10a8cf"/><circle cx="504.8" cy="43.4" r="1.25" fill="#3b23c0"/><circle cx="500.9" cy="45.6" r="1.25" fill="#1eb38c"/><circle cx="489.8" cy="46.5" r="1.25" fill="#3b23c0"/><circle cx="508.1" cy="46.7" r="1.25" fill="#1eb38c"/><circle cx="441.9" cy="52.1" r="1.25" fill="#2a48f0"/><circle cx="446.9" cy="51.0" r="1.25" fill="#d6a818"/><circle cx="449.1" cy="54.8" r="1.25" fill="#d6a818"/><circle cx="450.9" cy="57.9" r="1.25" fill="#f6b032"/><circle cx="457.4" cy="52.5" r="1.25" fill="#10a8cf"/><circle cx="461.4" cy="51.8" r="1.25" fill="#1eb38c"/><circle cx="467.5" cy="52.1" r="1.25" fill="#2a48f0"/><circle cx="468.8" cy="51.0" r="1.25" fill="#f3e01c"/><circle cx="467.9" cy="53.5" r="1.25" fill="#f3e01c"/><circle cx="473.3" cy="51.0" r="1.25" fill="#1eb38c"/><circle cx="475.1" cy="51.4" r="1.25" fill="#1eb38c"/><circle cx="481.6" cy="51.6" r="1.25" fill="#52b84c"/><circle cx="471.0" cy="54.6" r="1.25" fill="#3b23c0"/><circle cx="478.3" cy="54.8" r="1.25" fill="#2a48f0"/><circle cx="458.8" cy="57.6" r="1.25" fill="#1478ee"/><circle cx="454.7" cy="60.1" r="1.25" fill="#2a48f0"/><circle cx="453.8" cy="60.8" r="1.25" fill="#2a48f0"/><circle cx="461.0" cy="60.1" r="1.25" fill="#1478ee"/><circle cx="456.0" cy="63.0" r="1.25" fill="#52b84c"/><circle cx="465.8" cy="60.1" r="1.25" fill="#f3e01c"/><circle cx="469.9" cy="58.3" r="1.25" fill="#f6b032"/><circle cx="471.0" cy="57.9" r="1.25" fill="#f6b032"/><circle cx="473.3" cy="57.6" r="1.25" fill="#d6a818"/><circle cx="474.8" cy="60.8" r="1.25" fill="#d6a818"/><circle cx="473.3" cy="62.7" r="1.25" fill="#d6a818"/><circle cx="477.3" cy="63.3" r="1.25" fill="#f6b032"/><circle cx="480.7" cy="64.1" r="1.25" fill="#2a48f0"/><circle cx="481.8" cy="63.0" r="1.25" fill="#10a8cf"/><circle cx="474.0" cy="64.8" r="1.25" fill="#2a48f0"/><circle cx="472.9" cy="66.2" r="1.25" fill="#2a48f0"/><circle cx="471.8" cy="67.6" r="1.25" fill="#2a48f0"/><circle cx="476.9" cy="68.4" r="1.25" fill="#d6a818"/><circle cx="464.5" cy="68.7" r="1.25" fill="#1eb38c"/><circle cx="469.7" cy="72.0" r="1.25" fill="#10a8cf"/><circle cx="471.0" cy="72.4" r="1.25" fill="#d6a818"/><circle cx="462.1" cy="75.7" r="1.25" fill="#2a48f0"/><circle cx="463.4" cy="76.0" r="1.25" fill="#2a48f0"/><circle cx="474.0" cy="75.7" r="1.25" fill="#52b84c"/><circle cx="477.3" cy="79.2" r="1.25" fill="#f3e01c"/><circle cx="489.0" cy="48.9" r="1.25" fill="#1eb38c"/><circle cx="491.1" cy="48.9" r="1.25" fill="#2a48f0"/><circle cx="484.2" cy="50.7" r="1.25" fill="#1eb38c"/><circle cx="493.6" cy="51.4" r="1.25" fill="#d6a818"/><circle cx="497.2" cy="50.3" r="1.25" fill="#10a8cf"/><circle cx="505.9" cy="49.2" r="1.25" fill="#d6a818"/><circle cx="508.8" cy="48.6" r="1.25" fill="#1478ee"/><circle cx="508.5" cy="50.3" r="1.25" fill="#3b23c0"/><circle cx="487.5" cy="53.8" r="1.25" fill="#1eb38c"/><circle cx="488.8" cy="54.6" r="1.25" fill="#f6b032"/><circle cx="494.2" cy="54.0" r="1.25" fill="#d6a818"/><circle cx="495.3" cy="55.1" r="1.25" fill="#10a8cf"/><circle cx="515.3" cy="56.5" r="1.25" fill="#1478ee"/><circle cx="489.0" cy="57.6" r="1.25" fill="#10a8cf"/><circle cx="489.0" cy="60.1" r="1.25" fill="#d6a818"/><circle cx="500.7" cy="60.3" r="1.25" fill="#3b23c0"/><circle cx="500.9" cy="61.6" r="1.25" fill="#f6b032"/><circle cx="487.5" cy="63.3" r="1.25" fill="#3b23c0"/><circle cx="492.9" cy="66.8" r="1.25" fill="#2a48f0"/><circle cx="495.3" cy="69.0" r="1.25" fill="#3b23c0"/><circle cx="498.7" cy="70.2" r="1.25" fill="#1eb38c"/><circle cx="498.0" cy="72.0" r="1.25" fill="#1478ee"/><circle cx="490.7" cy="78.2" r="1.25" fill="#2a48f0"/><circle cx="495.3" cy="82.8" r="1.25" fill="#1eb38c"/><circle cx="486.4" cy="83.6" r="1.25" fill="#f3e01c"/><circle cx="492.6" cy="85.0" r="1.25" fill="#f3e01c"/><path d="M433.20 6.90V89.00H525.40" fill="none" stroke="#dcdcdc" stroke-width="1.4"/><path d="M433.20 89.00v-0.9M456.25 89.00v-0.9M479.30 89.00v-0.9M502.35 89.00v-0.9M525.40 89.00v-0.9M433.20 89.00h0.9M433.20 78.74h0.9M433.20 68.47h0.9M433.20 58.21h0.9M433.20 47.95h0.9M433.20 37.69h0.9M433.20 27.42h0.9M433.20 17.16h0.9M433.20 6.90h0.9" stroke="#909090" stroke-width="0.5"/><rect x="529.00" y="6.90" width="5.20" height="82.10" fill="url(#par)"/></g><g filter="url(#bl)"><text x="433.20" y="93.80" class="tl" text-anchor="middle">-1</text><text x="456.25" y="93.80" class="tl" text-anchor="middle">-0.5</text><text x="479.30" y="93.80" class="tl" text-anchor="middle">0</text><text x="502.35" y="93.80" class="tl" text-anchor="middle">0.5</text><text x="525.40" y="93.80" class="tl" text-anchor="middle">1</text><text x="431.50" y="90.80" class="tl" text-anchor="end">-0.8</text><text x="431.50" y="80.54" class="tl" text-anchor="end">-0.6</text><text x="431.50" y="70.27" class="tl" text-anchor="end">-0.4</text><text x="431.50" y="60.01" class="tl" text-anchor="end">-0.2</text><text x="431.50" y="49.75" class="tl" text-anchor="end">0</text><text x="431.50" y="39.49" class="tl" text-anchor="end">0.2</text><text x="431.50" y="29.22" class="tl" text-anchor="end">0.4</text><text x="431.50" y="18.96" class="tl" text-anchor="end">0.6</text><text x="431.50" y="8.70" class="tl" text-anchor="end">0.8</text><text x="479.30" y="98.20" class="al" text-anchor="middle">Feature 1</text><text class="al" text-anchor="middle" transform="translate(425.20 47.95) rotate(-90)">Feature 2</text><text x="535.50" y="83.07" class="tl">0.1</text><text x="535.50" y="74.64" class="tl">0.2</text><text x="535.50" y="66.21" class="tl">0.3</text><text x="535.50" y="57.78" class="tl">0.4</text><text x="535.50" y="49.35" class="tl">0.5</text><text x="535.50" y="40.92" class="tl">0.6</text><text x="535.50" y="32.49" class="tl">0.7</text><text x="535.50" y="24.06" class="tl">0.8</text><text x="535.50" y="15.63" class="tl">0.9</text><text class="al" text-anchor="middle" transform="translate(544.70 47.95) rotate(-90)">AHR</text></g><text class="cap" text-anchor="middle" transform="translate(484.60 125.70) scale(0.88 1)">(<tspan font-weight="bold">d</tspan>)</text>
<g><circle cx="59.4" cy="161.6" r="1.25" fill="#f6b032"/><circle cx="65.8" cy="160.3" r="1.25" fill="#1478ee"/><circle cx="65.8" cy="162.4" r="1.25" fill="#2a48f0"/><circle cx="49.1" cy="166.2" r="1.25" fill="#1eb38c"/><circle cx="59.4" cy="167.3" r="1.25" fill="#3b23c0"/><circle cx="49.1" cy="171.3" r="1.25" fill="#1478ee"/><circle cx="52.9" cy="171.9" r="1.25" fill="#1478ee"/><circle cx="32.8" cy="171.0" r="1.25" fill="#52b84c"/><circle cx="32.8" cy="173.5" r="1.25" fill="#1478ee"/><circle cx="31.7" cy="175.3" r="1.25" fill="#1478ee"/><circle cx="22.7" cy="174.2" r="1.25" fill="#f6b032"/><circle cx="39.0" cy="174.6" r="1.25" fill="#d6a818"/><circle cx="39.0" cy="175.7" r="1.25" fill="#f3e01c"/><circle cx="63.7" cy="173.8" r="1.25" fill="#2a48f0"/><circle cx="63.2" cy="175.7" r="1.25" fill="#f3e01c"/><circle cx="62.9" cy="177.1" r="1.25" fill="#1eb38c"/><circle cx="48.3" cy="176.2" r="1.25" fill="#d6a818"/><circle cx="49.1" cy="177.8" r="1.25" fill="#1478ee"/><circle cx="42.9" cy="179.2" r="1.25" fill="#f6b032"/><circle cx="52.9" cy="179.5" r="1.25" fill="#3b23c0"/><circle cx="54.8" cy="181.8" r="1.25" fill="#52b84c"/><circle cx="57.8" cy="182.5" r="1.25" fill="#1eb38c"/><circle cx="57.2" cy="183.8" r="1.25" fill="#3b23c0"/><circle cx="41.0" cy="182.9" r="1.25" fill="#1eb38c"/><circle cx="45.8" cy="182.9" r="1.25" fill="#2a48f0"/><circle cx="64.3" cy="184.9" r="1.25" fill="#2a48f0"/><circle cx="29.2" cy="186.5" r="1.25" fill="#1478ee"/><circle cx="31.7" cy="187.9" r="1.25" fill="#1478ee"/><circle cx="32.5" cy="186.2" r="1.25" fill="#d6a818"/><circle cx="32.1" cy="191.2" r="1.25" fill="#2a48f0"/><circle cx="37.5" cy="190.3" r="1.25" fill="#2a48f0"/><circle cx="44.4" cy="190.1" r="1.25" fill="#1eb38c"/><circle cx="47.5" cy="188.1" r="1.25" fill="#1eb38c"/><circle cx="52.7" cy="188.7" r="1.25" fill="#d6a818"/><circle cx="53.7" cy="191.2" r="1.25" fill="#10a8cf"/><circle cx="54.5" cy="192.3" r="1.25" fill="#d6a818"/><circle cx="56.3" cy="191.2" r="1.25" fill="#2a48f0"/><circle cx="58.1" cy="190.3" r="1.25" fill="#10a8cf"/><circle cx="59.4" cy="190.8" r="1.25" fill="#10a8cf"/><circle cx="59.9" cy="187.9" r="1.25" fill="#f3e01c"/><circle cx="61.6" cy="189.2" r="1.25" fill="#3b23c0"/><circle cx="63.2" cy="189.8" r="1.25" fill="#3b23c0"/><circle cx="65.3" cy="187.6" r="1.25" fill="#2a48f0"/><circle cx="65.3" cy="189.8" r="1.25" fill="#f3e01c"/><circle cx="46.9" cy="193.0" r="1.25" fill="#52b84c"/><circle cx="74.8" cy="158.6" r="1.25" fill="#1eb38c"/><circle cx="77.7" cy="157.2" r="1.25" fill="#d6a818"/><circle cx="72.3" cy="168.1" r="1.25" fill="#f3e01c"/><circle cx="79.4" cy="171.3" r="1.25" fill="#d6a818"/><circle cx="85.0" cy="171.9" r="1.25" fill="#1478ee"/><circle cx="69.4" cy="177.1" r="1.25" fill="#1eb38c"/><circle cx="78.5" cy="176.7" r="1.25" fill="#1eb38c"/><circle cx="78.8" cy="179.7" r="1.25" fill="#1eb38c"/><circle cx="74.1" cy="179.5" r="1.25" fill="#2a48f0"/><circle cx="81.7" cy="181.4" r="1.25" fill="#f6b032"/><circle cx="86.7" cy="178.2" r="1.25" fill="#d6a818"/><circle cx="89.7" cy="180.0" r="1.25" fill="#f3e01c"/><circle cx="90.4" cy="176.0" r="1.25" fill="#52b84c"/><circle cx="93.7" cy="178.2" r="1.25" fill="#52b84c"/><circle cx="96.5" cy="178.2" r="1.25" fill="#3b23c0"/><circle cx="99.4" cy="178.6" r="1.25" fill="#f6b032"/><circle cx="99.1" cy="181.8" r="1.25" fill="#10a8cf"/><circle cx="68.0" cy="181.1" r="1.25" fill="#f6b032"/><circle cx="68.5" cy="182.5" r="1.25" fill="#1478ee"/><circle cx="69.6" cy="182.2" r="1.25" fill="#3b23c0"/><circle cx="70.7" cy="182.9" r="1.25" fill="#3b23c0"/><circle cx="65.5" cy="187.6" r="1.25" fill="#3b23c0"/><circle cx="68.0" cy="187.9" r="1.25" fill="#f3e01c"/><circle cx="69.8" cy="190.3" r="1.25" fill="#2a48f0"/><circle cx="70.5" cy="192.3" r="1.25" fill="#d6a818"/><circle cx="73.1" cy="191.6" r="1.25" fill="#52b84c"/><circle cx="75.6" cy="187.9" r="1.25" fill="#1eb38c"/><circle cx="76.3" cy="192.7" r="1.25" fill="#f6b032"/><circle cx="78.5" cy="190.5" r="1.25" fill="#f3e01c"/><circle cx="79.6" cy="191.6" r="1.25" fill="#1478ee"/><circle cx="79.1" cy="193.3" r="1.25" fill="#10a8cf"/><circle cx="84.6" cy="187.9" r="1.25" fill="#1eb38c"/><circle cx="85.9" cy="188.3" r="1.25" fill="#10a8cf"/><circle cx="89.1" cy="190.5" r="1.25" fill="#d6a818"/><circle cx="95.1" cy="186.5" r="1.25" fill="#2a48f0"/><circle cx="103.0" cy="189.0" r="1.25" fill="#2a48f0"/><circle cx="26.3" cy="195.0" r="1.25" fill="#f3e01c"/><circle cx="42.9" cy="195.0" r="1.25" fill="#d6a818"/><circle cx="44.4" cy="195.8" r="1.25" fill="#d6a818"/><circle cx="59.9" cy="194.7" r="1.25" fill="#d6a818"/><circle cx="60.3" cy="198.0" r="1.25" fill="#f3e01c"/><circle cx="59.2" cy="199.4" r="1.25" fill="#d6a818"/><circle cx="63.7" cy="197.4" r="1.25" fill="#2a48f0"/><circle cx="34.2" cy="199.0" r="1.25" fill="#10a8cf"/><circle cx="37.1" cy="200.1" r="1.25" fill="#1478ee"/><circle cx="35.3" cy="201.5" r="1.25" fill="#1478ee"/><circle cx="39.6" cy="199.0" r="1.25" fill="#1eb38c"/><circle cx="43.3" cy="198.0" r="1.25" fill="#1eb38c"/><circle cx="32.8" cy="205.6" r="1.25" fill="#52b84c"/><circle cx="44.0" cy="203.9" r="1.25" fill="#3b23c0"/><circle cx="47.7" cy="206.1" r="1.25" fill="#1478ee"/><circle cx="49.1" cy="208.5" r="1.25" fill="#f3e01c"/><circle cx="50.9" cy="208.1" r="1.25" fill="#52b84c"/><circle cx="52.9" cy="203.9" r="1.25" fill="#10a8cf"/><circle cx="53.1" cy="205.6" r="1.25" fill="#1eb38c"/><circle cx="54.8" cy="204.1" r="1.25" fill="#f6b032"/><circle cx="55.9" cy="203.1" r="1.25" fill="#52b84c"/><circle cx="59.4" cy="204.8" r="1.25" fill="#52b84c"/><circle cx="60.7" cy="205.6" r="1.25" fill="#1eb38c"/><circle cx="62.6" cy="202.0" r="1.25" fill="#10a8cf"/><circle cx="63.9" cy="202.6" r="1.25" fill="#f6b032"/><circle cx="65.7" cy="208.3" r="1.25" fill="#f6b032"/><circle cx="52.0" cy="218.2" r="1.25" fill="#52b84c"/><circle cx="47.7" cy="221.1" r="1.25" fill="#10a8cf"/><circle cx="75.2" cy="195.0" r="1.25" fill="#2a48f0"/><circle cx="71.2" cy="198.3" r="1.25" fill="#10a8cf"/><circle cx="73.7" cy="199.6" r="1.25" fill="#f3e01c"/><circle cx="77.0" cy="197.6" r="1.25" fill="#1478ee"/><circle cx="86.4" cy="198.0" r="1.25" fill="#52b84c"/><circle cx="96.9" cy="196.9" r="1.25" fill="#f6b032"/><circle cx="68.0" cy="203.7" r="1.25" fill="#1478ee"/><circle cx="76.1" cy="204.8" r="1.25" fill="#1eb38c"/><circle cx="81.3" cy="203.4" r="1.25" fill="#f6b032"/><circle cx="82.8" cy="204.1" r="1.25" fill="#3b23c0"/><circle cx="83.9" cy="203.4" r="1.25" fill="#1478ee"/><circle cx="90.7" cy="205.6" r="1.25" fill="#1eb38c"/><circle cx="94.0" cy="204.8" r="1.25" fill="#1eb38c"/><circle cx="77.7" cy="207.7" r="1.25" fill="#d6a818"/><circle cx="85.3" cy="209.9" r="1.25" fill="#f6b032"/><circle cx="85.3" cy="220.4" r="1.25" fill="#1478ee"/><circle cx="78.5" cy="228.0" r="1.25" fill="#1478ee"/><path d="M16.70 152.90V235.20H108.20" fill="none" stroke="#dcdcdc" stroke-width="1.4"/><path d="M16.70 235.20v-0.9M28.14 235.20v-0.9M39.58 235.20v-0.9M51.01 235.20v-0.9M62.45 235.20v-0.9M73.89 235.20v-0.9M85.33 235.20v-0.9M96.76 235.20v-0.9M108.20 235.20v-0.9M16.70 235.20h0.9M16.70 226.06h0.9M16.70 216.91h0.9M16.70 207.77h0.9M16.70 198.62h0.9M16.70 189.48h0.9M16.70 180.33h0.9M16.70 171.19h0.9M16.70 162.04h0.9M16.70 152.90h0.9" stroke="#909090" stroke-width="0.5"/><rect x="113.10" y="152.90" width="4.90" height="82.30" fill="url(#par)"/></g><g filter="url(#bl)"><text x="16.70" y="240.00" class="tl" text-anchor="middle">-0.8</text><text x="28.14" y="240.00" class="tl" text-anchor="middle">-0.6</text><text x="39.58" y="240.00" class="tl" text-anchor="middle">-0.4</text><text x="51.01" y="240.00" class="tl" text-anchor="middle">-0.2</text><text x="62.45" y="240.00" class="tl" text-anchor="middle">0</text><text x="73.89" y="240.00" class="tl" text-anchor="middle">0.2</text><text x="85.33" y="240.00" class="tl" text-anchor="middle">0.4</text><text x="96.76" y="240.00" class="tl" text-anchor="middle">0.6</text><text x="108.20" y="240.00" class="tl" text-anchor="middle">0.8</text><text x="15.00" y="237.00" class="tl" text-anchor="end">-1</text><text x="15.00" y="227.86" class="tl" text-anchor="end">-0.8</text><text x="15.00" y="218.71" class="tl" text-anchor="end">-0.6</text><text x="15.00" y="209.57" class="tl" text-anchor="end">-0.4</text><text x="15.00" y="200.42" class="tl" text-anchor="end">-0.2</text><text x="15.00" y="191.28" class="tl" text-anchor="end">0</text><text x="15.00" y="182.13" class="tl" text-anchor="end">0.2</text><text x="15.00" y="172.99" class="tl" text-anchor="end">0.4</text><text x="15.00" y="163.84" class="tl" text-anchor="end">0.6</text><text x="15.00" y="154.70" class="tl" text-anchor="end">0.8</text><text x="62.45" y="244.40" class="al" text-anchor="middle">Feature 1</text><text class="al" text-anchor="middle" transform="translate(8.70 194.05) rotate(-90)">Feature 2</text><text x="119.30" y="229.25" class="tl">0.1</text><text x="119.30" y="220.80" class="tl">0.2</text><text x="119.30" y="212.35" class="tl">0.3</text><text x="119.30" y="203.90" class="tl">0.4</text><text x="119.30" y="195.45" class="tl">0.5</text><text x="119.30" y="187.00" class="tl">0.6</text><text x="119.30" y="178.55" class="tl">0.7</text><text x="119.30" y="170.10" class="tl">0.8</text><text x="119.30" y="161.65" class="tl">0.9</text><text class="al" text-anchor="middle" transform="translate(128.50 194.05) rotate(-90)">AHR</text></g><text class="cap" text-anchor="middle" transform="translate(68.80 271.70) scale(0.88 1)">(<tspan font-weight="bold">e</tspan>)</text>
<g><circle cx="192.7" cy="157.2" r="1.25" fill="#3b23c0"/><circle cx="191.0" cy="160.8" r="1.25" fill="#2a48f0"/><circle cx="193.5" cy="164.1" r="1.25" fill="#d6a818"/><circle cx="202.7" cy="166.7" r="1.25" fill="#2a48f0"/><circle cx="202.2" cy="169.7" r="1.25" fill="#f6b032"/><circle cx="204.3" cy="170.2" r="1.25" fill="#1478ee"/><circle cx="203.6" cy="171.6" r="1.25" fill="#52b84c"/><circle cx="196.4" cy="170.2" r="1.25" fill="#1eb38c"/><circle cx="201.9" cy="174.2" r="1.25" fill="#d6a818"/><circle cx="201.1" cy="175.7" r="1.25" fill="#10a8cf"/><circle cx="196.8" cy="176.2" r="1.25" fill="#1478ee"/><circle cx="194.0" cy="177.1" r="1.25" fill="#1eb38c"/><circle cx="191.9" cy="177.8" r="1.25" fill="#10a8cf"/><circle cx="200.0" cy="178.6" r="1.25" fill="#1478ee"/><circle cx="201.4" cy="179.5" r="1.25" fill="#1478ee"/><circle cx="198.9" cy="180.3" r="1.25" fill="#52b84c"/><circle cx="201.6" cy="180.8" r="1.25" fill="#d6a818"/><circle cx="188.1" cy="179.7" r="1.25" fill="#1478ee"/><circle cx="187.8" cy="182.5" r="1.25" fill="#1478ee"/><circle cx="179.7" cy="181.1" r="1.25" fill="#3b23c0"/><circle cx="180.0" cy="184.0" r="1.25" fill="#1eb38c"/><circle cx="184.8" cy="183.8" r="1.25" fill="#3b23c0"/><circle cx="186.5" cy="184.7" r="1.25" fill="#3b23c0"/><circle cx="185.9" cy="186.2" r="1.25" fill="#1478ee"/><circle cx="194.6" cy="182.7" r="1.25" fill="#10a8cf"/><circle cx="198.4" cy="184.3" r="1.25" fill="#10a8cf"/><circle cx="200.8" cy="182.2" r="1.25" fill="#2a48f0"/><circle cx="204.3" cy="183.2" r="1.25" fill="#1478ee"/><circle cx="197.1" cy="186.5" r="1.25" fill="#3b23c0"/><circle cx="197.1" cy="188.7" r="1.25" fill="#d6a818"/><circle cx="192.1" cy="188.1" r="1.25" fill="#1478ee"/><circle cx="191.0" cy="189.8" r="1.25" fill="#1478ee"/><circle cx="183.2" cy="190.8" r="1.25" fill="#1eb38c"/><circle cx="189.9" cy="191.2" r="1.25" fill="#1eb38c"/><circle cx="192.4" cy="191.6" r="1.25" fill="#f3e01c"/><circle cx="193.2" cy="192.7" r="1.25" fill="#f3e01c"/><circle cx="195.3" cy="193.3" r="1.25" fill="#d6a818"/><circle cx="186.7" cy="193.0" r="1.25" fill="#1eb38c"/><circle cx="200.0" cy="191.9" r="1.25" fill="#52b84c"/><circle cx="200.3" cy="193.3" r="1.25" fill="#10a8cf"/><circle cx="203.3" cy="191.9" r="1.25" fill="#3b23c0"/><circle cx="205.6" cy="170.8" r="1.25" fill="#1eb38c"/><circle cx="210.8" cy="167.3" r="1.25" fill="#10a8cf"/><circle cx="212.8" cy="168.8" r="1.25" fill="#10a8cf"/><circle cx="213.9" cy="167.0" r="1.25" fill="#52b84c"/><circle cx="218.2" cy="171.0" r="1.25" fill="#10a8cf"/><circle cx="216.1" cy="175.3" r="1.25" fill="#2a48f0"/><circle cx="221.5" cy="178.2" r="1.25" fill="#f3e01c"/><circle cx="224.1" cy="178.4" r="1.25" fill="#10a8cf"/><circle cx="227.7" cy="181.1" r="1.25" fill="#10a8cf"/><circle cx="208.1" cy="181.6" r="1.25" fill="#f6b032"/><circle cx="217.6" cy="182.9" r="1.25" fill="#1478ee"/><circle cx="210.3" cy="185.4" r="1.25" fill="#1eb38c"/><circle cx="213.9" cy="184.9" r="1.25" fill="#1478ee"/><circle cx="213.9" cy="186.2" r="1.25" fill="#f6b032"/><circle cx="206.7" cy="187.6" r="1.25" fill="#d6a818"/><circle cx="211.1" cy="189.0" r="1.25" fill="#2a48f0"/><circle cx="217.1" cy="189.0" r="1.25" fill="#d6a818"/><circle cx="215.7" cy="190.5" r="1.25" fill="#f3e01c"/><circle cx="224.7" cy="187.9" r="1.25" fill="#f3e01c"/><circle cx="233.4" cy="186.8" r="1.25" fill="#3b23c0"/><circle cx="237.7" cy="183.8" r="1.25" fill="#d6a818"/><circle cx="204.6" cy="193.3" r="1.25" fill="#10a8cf"/><circle cx="213.6" cy="193.6" r="1.25" fill="#d6a818"/><circle cx="220.6" cy="193.3" r="1.25" fill="#d6a818"/><circle cx="158.0" cy="195.8" r="1.25" fill="#2a48f0"/><circle cx="164.5" cy="197.2" r="1.25" fill="#1478ee"/><circle cx="178.9" cy="195.5" r="1.25" fill="#2a48f0"/><circle cx="176.7" cy="200.1" r="1.25" fill="#1eb38c"/><circle cx="184.1" cy="200.1" r="1.25" fill="#3b23c0"/><circle cx="185.2" cy="197.4" r="1.25" fill="#f6b032"/><circle cx="188.1" cy="194.0" r="1.25" fill="#f3e01c"/><circle cx="192.4" cy="194.7" r="1.25" fill="#1478ee"/><circle cx="195.7" cy="194.0" r="1.25" fill="#d6a818"/><circle cx="189.2" cy="198.0" r="1.25" fill="#d6a818"/><circle cx="189.9" cy="198.3" r="1.25" fill="#52b84c"/><circle cx="193.8" cy="197.6" r="1.25" fill="#1eb38c"/><circle cx="193.8" cy="199.4" r="1.25" fill="#d6a818"/><circle cx="197.5" cy="199.4" r="1.25" fill="#52b84c"/><circle cx="202.7" cy="198.0" r="1.25" fill="#1478ee"/><circle cx="203.3" cy="199.8" r="1.25" fill="#f3e01c"/><circle cx="198.4" cy="202.0" r="1.25" fill="#f3e01c"/><circle cx="188.6" cy="202.6" r="1.25" fill="#1eb38c"/><circle cx="184.3" cy="204.1" r="1.25" fill="#d6a818"/><circle cx="194.0" cy="205.2" r="1.25" fill="#d6a818"/><circle cx="193.8" cy="206.6" r="1.25" fill="#10a8cf"/><circle cx="201.1" cy="207.4" r="1.25" fill="#3b23c0"/><circle cx="204.0" cy="205.2" r="1.25" fill="#10a8cf"/><circle cx="204.3" cy="206.1" r="1.25" fill="#1478ee"/><circle cx="186.2" cy="208.3" r="1.25" fill="#1478ee"/><circle cx="183.4" cy="209.9" r="1.25" fill="#2a48f0"/><circle cx="170.0" cy="211.5" r="1.25" fill="#1478ee"/><circle cx="174.7" cy="211.5" r="1.25" fill="#1478ee"/><circle cx="195.7" cy="211.0" r="1.25" fill="#1478ee"/><circle cx="198.9" cy="212.4" r="1.25" fill="#1eb38c"/><circle cx="198.4" cy="215.3" r="1.25" fill="#2a48f0"/><circle cx="189.5" cy="217.2" r="1.25" fill="#2a48f0"/><circle cx="188.4" cy="219.1" r="1.25" fill="#1478ee"/><circle cx="194.0" cy="216.7" r="1.25" fill="#1eb38c"/><circle cx="195.3" cy="218.2" r="1.25" fill="#f3e01c"/><circle cx="197.1" cy="219.7" r="1.25" fill="#1478ee"/><circle cx="198.4" cy="220.4" r="1.25" fill="#1478ee"/><circle cx="216.8" cy="194.7" r="1.25" fill="#10a8cf"/><circle cx="217.4" cy="196.1" r="1.25" fill="#1478ee"/><circle cx="219.3" cy="196.3" r="1.25" fill="#f6b032"/><circle cx="211.1" cy="196.9" r="1.25" fill="#1eb38c"/><circle cx="205.2" cy="200.1" r="1.25" fill="#1478ee"/><circle cx="208.1" cy="199.8" r="1.25" fill="#2a48f0"/><circle cx="210.0" cy="201.5" r="1.25" fill="#f3e01c"/><circle cx="226.0" cy="199.0" r="1.25" fill="#2a48f0"/><circle cx="232.0" cy="200.1" r="1.25" fill="#3b23c0"/><circle cx="222.2" cy="202.8" r="1.25" fill="#2a48f0"/><circle cx="220.4" cy="203.7" r="1.25" fill="#52b84c"/><circle cx="228.7" cy="203.7" r="1.25" fill="#1478ee"/><circle cx="235.2" cy="203.7" r="1.25" fill="#52b84c"/><circle cx="206.5" cy="203.1" r="1.25" fill="#1eb38c"/><circle cx="204.9" cy="204.1" r="1.25" fill="#52b84c"/><circle cx="228.2" cy="206.6" r="1.25" fill="#1eb38c"/><circle cx="210.0" cy="209.9" r="1.25" fill="#1eb38c"/><circle cx="218.4" cy="210.7" r="1.25" fill="#3b23c0"/><circle cx="219.0" cy="212.1" r="1.25" fill="#3b23c0"/><circle cx="215.7" cy="212.8" r="1.25" fill="#1478ee"/><circle cx="207.0" cy="211.7" r="1.25" fill="#d6a818"/><circle cx="207.4" cy="213.5" r="1.25" fill="#10a8cf"/><circle cx="206.3" cy="213.9" r="1.25" fill="#10a8cf"/><circle cx="215.4" cy="215.9" r="1.25" fill="#10a8cf"/><circle cx="232.8" cy="215.6" r="1.25" fill="#1478ee"/><circle cx="207.0" cy="220.4" r="1.25" fill="#2a48f0"/><circle cx="209.2" cy="226.7" r="1.25" fill="#2a48f0"/><circle cx="217.9" cy="226.7" r="1.25" fill="#10a8cf"/><circle cx="209.2" cy="230.8" r="1.25" fill="#2a48f0"/><path d="M155.80 152.80V235.10H248.20" fill="none" stroke="#dcdcdc" stroke-width="1.4"/><path d="M155.80 235.10v-0.9M178.90 235.10v-0.9M202.00 235.10v-0.9M225.10 235.10v-0.9M248.20 235.10v-0.9M155.80 235.10h0.9M155.80 224.81h0.9M155.80 214.53h0.9M155.80 204.24h0.9M155.80 193.95h0.9M155.80 183.66h0.9M155.80 173.38h0.9M155.80 163.09h0.9M155.80 152.80h0.9" stroke="#909090" stroke-width="0.5"/><rect x="252.00" y="152.80" width="4.90" height="82.30" fill="url(#par)"/></g><g filter="url(#bl)"><text x="155.80" y="239.90" class="tl" text-anchor="middle">-1</text><text x="178.90" y="239.90" class="tl" text-anchor="middle">-0.5</text><text x="202.00" y="239.90" class="tl" text-anchor="middle">0</text><text x="225.10" y="239.90" class="tl" text-anchor="middle">0.5</text><text x="248.20" y="239.90" class="tl" text-anchor="middle">1</text><text x="154.10" y="236.90" class="tl" text-anchor="end">-0.8</text><text x="154.10" y="226.61" class="tl" text-anchor="end">-0.6</text><text x="154.10" y="216.33" class="tl" text-anchor="end">-0.4</text><text x="154.10" y="206.04" class="tl" text-anchor="end">-0.2</text><text x="154.10" y="195.75" class="tl" text-anchor="end">0</text><text x="154.10" y="185.46" class="tl" text-anchor="end">0.2</text><text x="154.10" y="175.18" class="tl" text-anchor="end">0.4</text><text x="154.10" y="164.89" class="tl" text-anchor="end">0.6</text><text x="154.10" y="154.60" class="tl" text-anchor="end">0.8</text><text x="202.00" y="244.30" class="al" text-anchor="middle">Feature 1</text><text class="al" text-anchor="middle" transform="translate(147.80 193.95) rotate(-90)">Feature 2</text><text x="258.20" y="229.15" class="tl">0.1</text><text x="258.20" y="220.70" class="tl">0.2</text><text x="258.20" y="212.25" class="tl">0.3</text><text x="258.20" y="203.80" class="tl">0.4</text><text x="258.20" y="195.35" class="tl">0.5</text><text x="258.20" y="186.90" class="tl">0.6</text><text x="258.20" y="178.45" class="tl">0.7</text><text x="258.20" y="170.00" class="tl">0.8</text><text x="258.20" y="161.55" class="tl">0.9</text><text class="al" text-anchor="middle" transform="translate(267.40 193.95) rotate(-90)">AHR</text></g><text class="cap" text-anchor="middle" transform="translate(207.30 271.70) scale(0.88 1)">(<tspan font-weight="bold">f</tspan>)</text>
<g><circle cx="341.7" cy="153.6" r="1.25" fill="#1478ee"/><circle cx="311.9" cy="159.2" r="1.25" fill="#3b23c0"/><circle cx="317.3" cy="160.6" r="1.25" fill="#f3e01c"/><circle cx="325.7" cy="161.2" r="1.25" fill="#1478ee"/><circle cx="327.1" cy="165.7" r="1.25" fill="#2a48f0"/><circle cx="342.6" cy="168.2" r="1.25" fill="#52b84c"/><circle cx="300.7" cy="172.9" r="1.25" fill="#f6b032"/><circle cx="310.8" cy="172.6" r="1.25" fill="#f6b032"/><circle cx="313.5" cy="172.9" r="1.25" fill="#f6b032"/><circle cx="326.3" cy="174.0" r="1.25" fill="#10a8cf"/><circle cx="339.0" cy="171.5" r="1.25" fill="#1478ee"/><circle cx="306.8" cy="176.9" r="1.25" fill="#2a48f0"/><circle cx="330.7" cy="178.3" r="1.25" fill="#f3e01c"/><circle cx="337.9" cy="178.8" r="1.25" fill="#1478ee"/><circle cx="340.1" cy="176.6" r="1.25" fill="#d6a818"/><circle cx="341.7" cy="176.9" r="1.25" fill="#3b23c0"/><circle cx="343.7" cy="175.3" r="1.25" fill="#2a48f0"/><circle cx="343.4" cy="180.9" r="1.25" fill="#2a48f0"/><circle cx="323.1" cy="180.7" r="1.25" fill="#f6b032"/><circle cx="297.3" cy="182.9" r="1.25" fill="#f3e01c"/><circle cx="311.9" cy="186.1" r="1.25" fill="#f3e01c"/><circle cx="313.0" cy="186.7" r="1.25" fill="#1478ee"/><circle cx="330.3" cy="184.0" r="1.25" fill="#10a8cf"/><circle cx="336.1" cy="186.3" r="1.25" fill="#1eb38c"/><circle cx="332.8" cy="187.8" r="1.25" fill="#10a8cf"/><circle cx="332.5" cy="189.2" r="1.25" fill="#52b84c"/><circle cx="337.9" cy="189.6" r="1.25" fill="#3b23c0"/><circle cx="320.2" cy="188.5" r="1.25" fill="#f6b032"/><circle cx="318.7" cy="189.9" r="1.25" fill="#1478ee"/><circle cx="320.9" cy="191.6" r="1.25" fill="#52b84c"/><circle cx="346.0" cy="163.1" r="1.25" fill="#1478ee"/><circle cx="354.1" cy="167.1" r="1.25" fill="#2a48f0"/><circle cx="356.3" cy="166.4" r="1.25" fill="#f6b032"/><circle cx="350.0" cy="170.4" r="1.25" fill="#1478ee"/><circle cx="357.1" cy="171.5" r="1.25" fill="#2a48f0"/><circle cx="362.8" cy="172.0" r="1.25" fill="#52b84c"/><circle cx="352.8" cy="174.7" r="1.25" fill="#10a8cf"/><circle cx="346.5" cy="176.9" r="1.25" fill="#f3e01c"/><circle cx="355.7" cy="178.8" r="1.25" fill="#1478ee"/><circle cx="360.1" cy="177.7" r="1.25" fill="#f6b032"/><circle cx="361.1" cy="178.5" r="1.25" fill="#1478ee"/><circle cx="378.0" cy="175.8" r="1.25" fill="#f3e01c"/><circle cx="344.9" cy="179.8" r="1.25" fill="#1478ee"/><circle cx="373.1" cy="181.6" r="1.25" fill="#52b84c"/><circle cx="377.4" cy="180.9" r="1.25" fill="#2a48f0"/><circle cx="350.8" cy="183.4" r="1.25" fill="#3b23c0"/><circle cx="352.1" cy="184.2" r="1.25" fill="#52b84c"/><circle cx="346.3" cy="185.9" r="1.25" fill="#f3e01c"/><circle cx="345.2" cy="187.8" r="1.25" fill="#2a48f0"/><circle cx="357.9" cy="187.8" r="1.25" fill="#10a8cf"/><circle cx="368.4" cy="185.9" r="1.25" fill="#f3e01c"/><circle cx="364.4" cy="188.5" r="1.25" fill="#3b23c0"/><circle cx="370.2" cy="188.8" r="1.25" fill="#52b84c"/><circle cx="373.4" cy="187.8" r="1.25" fill="#3b23c0"/><circle cx="376.0" cy="189.9" r="1.25" fill="#52b84c"/><circle cx="345.6" cy="190.7" r="1.25" fill="#f3e01c"/><circle cx="353.0" cy="189.9" r="1.25" fill="#52b84c"/><circle cx="363.3" cy="191.6" r="1.25" fill="#2a48f0"/><circle cx="365.2" cy="191.6" r="1.25" fill="#10a8cf"/><circle cx="380.3" cy="191.6" r="1.25" fill="#1478ee"/><circle cx="321.3" cy="194.1" r="1.25" fill="#d6a818"/><circle cx="305.7" cy="194.1" r="1.25" fill="#52b84c"/><circle cx="313.0" cy="193.0" r="1.25" fill="#f3e01c"/><circle cx="313.0" cy="195.2" r="1.25" fill="#2a48f0"/><circle cx="311.1" cy="196.3" r="1.25" fill="#d6a818"/><circle cx="312.7" cy="197.8" r="1.25" fill="#f6b032"/><circle cx="301.0" cy="196.3" r="1.25" fill="#2a48f0"/><circle cx="302.9" cy="198.5" r="1.25" fill="#10a8cf"/><circle cx="305.1" cy="200.3" r="1.25" fill="#1478ee"/><circle cx="333.3" cy="194.9" r="1.25" fill="#1478ee"/><circle cx="340.1" cy="193.0" r="1.25" fill="#1478ee"/><circle cx="340.9" cy="193.5" r="1.25" fill="#1478ee"/><circle cx="339.6" cy="195.6" r="1.25" fill="#1478ee"/><circle cx="332.5" cy="198.9" r="1.25" fill="#2a48f0"/><circle cx="325.7" cy="198.9" r="1.25" fill="#2a48f0"/><circle cx="326.8" cy="200.0" r="1.25" fill="#52b84c"/><circle cx="328.7" cy="201.1" r="1.25" fill="#2a48f0"/><circle cx="324.9" cy="201.7" r="1.25" fill="#1478ee"/><circle cx="329.6" cy="202.1" r="1.25" fill="#10a8cf"/><circle cx="338.7" cy="200.0" r="1.25" fill="#1478ee"/><circle cx="326.8" cy="203.6" r="1.25" fill="#2a48f0"/><circle cx="330.0" cy="203.9" r="1.25" fill="#d6a818"/><circle cx="331.4" cy="205.0" r="1.25" fill="#3b23c0"/><circle cx="335.0" cy="204.6" r="1.25" fill="#2a48f0"/><circle cx="340.9" cy="204.6" r="1.25" fill="#f6b032"/><circle cx="307.0" cy="206.8" r="1.25" fill="#1478ee"/><circle cx="314.1" cy="209.3" r="1.25" fill="#1478ee"/><circle cx="318.1" cy="209.7" r="1.25" fill="#52b84c"/><circle cx="325.7" cy="209.3" r="1.25" fill="#1478ee"/><circle cx="328.9" cy="211.1" r="1.25" fill="#2a48f0"/><circle cx="341.5" cy="210.6" r="1.25" fill="#10a8cf"/><circle cx="340.9" cy="213.9" r="1.25" fill="#f6b032"/><circle cx="307.2" cy="212.2" r="1.25" fill="#1eb38c"/><circle cx="322.7" cy="215.8" r="1.25" fill="#2a48f0"/><circle cx="325.2" cy="218.0" r="1.25" fill="#2a48f0"/><circle cx="327.1" cy="222.0" r="1.25" fill="#52b84c"/><circle cx="330.3" cy="220.6" r="1.25" fill="#52b84c"/><circle cx="334.1" cy="225.6" r="1.25" fill="#1478ee"/><circle cx="337.9" cy="223.4" r="1.25" fill="#3b23c0"/><circle cx="355.2" cy="192.0" r="1.25" fill="#d6a818"/><circle cx="358.7" cy="192.7" r="1.25" fill="#f6b032"/><circle cx="361.1" cy="192.7" r="1.25" fill="#f3e01c"/><circle cx="357.4" cy="194.6" r="1.25" fill="#2a48f0"/><circle cx="344.9" cy="194.9" r="1.25" fill="#3b23c0"/><circle cx="375.6" cy="193.3" r="1.25" fill="#1478ee"/><circle cx="373.8" cy="196.0" r="1.25" fill="#2a48f0"/><circle cx="346.0" cy="200.0" r="1.25" fill="#3b23c0"/><circle cx="364.7" cy="201.4" r="1.25" fill="#3b23c0"/><circle cx="357.9" cy="202.1" r="1.25" fill="#2a48f0"/><circle cx="356.1" cy="203.9" r="1.25" fill="#2a48f0"/><circle cx="345.4" cy="206.5" r="1.25" fill="#f6b032"/><circle cx="350.0" cy="207.1" r="1.25" fill="#1478ee"/><circle cx="352.1" cy="209.7" r="1.25" fill="#f3e01c"/><circle cx="359.3" cy="208.4" r="1.25" fill="#1eb38c"/><circle cx="346.0" cy="213.3" r="1.25" fill="#10a8cf"/><circle cx="356.8" cy="215.2" r="1.25" fill="#f3e01c"/><circle cx="371.2" cy="216.0" r="1.25" fill="#2a48f0"/><circle cx="355.0" cy="220.6" r="1.25" fill="#f6b032"/><circle cx="364.1" cy="223.1" r="1.25" fill="#1478ee"/><circle cx="368.7" cy="222.8" r="1.25" fill="#f6b032"/><circle cx="370.9" cy="226.0" r="1.25" fill="#2a48f0"/><circle cx="347.8" cy="224.5" r="1.25" fill="#d6a818"/><path d="M294.50 151.40V233.30H385.40" fill="none" stroke="#dcdcdc" stroke-width="1.4"/><path d="M294.50 233.30v-0.9M305.86 233.30v-0.9M317.23 233.30v-0.9M328.59 233.30v-0.9M339.95 233.30v-0.9M351.31 233.30v-0.9M362.68 233.30v-0.9M374.04 233.30v-0.9M385.40 233.30v-0.9M294.50 233.30h0.9M294.50 223.06h0.9M294.50 212.83h0.9M294.50 202.59h0.9M294.50 192.35h0.9M294.50 182.11h0.9M294.50 171.88h0.9M294.50 161.64h0.9M294.50 151.40h0.9" stroke="#909090" stroke-width="0.5"/><rect x="390.30" y="151.40" width="5.60" height="81.90" fill="url(#par)"/></g><g filter="url(#bl)"><text x="294.50" y="238.10" class="tl" text-anchor="middle">-0.8</text><text x="305.86" y="238.10" class="tl" text-anchor="middle">-0.6</text><text x="317.23" y="238.10" class="tl" text-anchor="middle">-0.4</text><text x="328.59" y="238.10" class="tl" text-anchor="middle">-0.2</text><text x="339.95" y="238.10" class="tl" text-anchor="middle">0</text><text x="351.31" y="238.10" class="tl" text-anchor="middle">0.2</text><text x="362.68" y="238.10" class="tl" text-anchor="middle">0.4</text><text x="374.04" y="238.10" class="tl" text-anchor="middle">0.6</text><text x="385.40" y="238.10" class="tl" text-anchor="middle">0.8</text><text x="292.80" y="235.10" class="tl" text-anchor="end">-0.8</text><text x="292.80" y="224.86" class="tl" text-anchor="end">-0.6</text><text x="292.80" y="214.63" class="tl" text-anchor="end">-0.4</text><text x="292.80" y="204.39" class="tl" text-anchor="end">-0.2</text><text x="292.80" y="194.15" class="tl" text-anchor="end">0</text><text x="292.80" y="183.91" class="tl" text-anchor="end">0.2</text><text x="292.80" y="173.68" class="tl" text-anchor="end">0.4</text><text x="292.80" y="163.44" class="tl" text-anchor="end">0.6</text><text x="292.80" y="153.20" class="tl" text-anchor="end">0.8</text><text x="339.95" y="242.50" class="al" text-anchor="middle">Feature 1</text><text class="al" text-anchor="middle" transform="translate(286.50 192.35) rotate(-90)">Feature 2</text><text x="397.20" y="227.38" class="tl">0.1</text><text x="397.20" y="218.98" class="tl">0.2</text><text x="397.20" y="210.57" class="tl">0.3</text><text x="397.20" y="202.16" class="tl">0.4</text><text x="397.20" y="193.75" class="tl">0.5</text><text x="397.20" y="185.34" class="tl">0.6</text><text x="397.20" y="176.93" class="tl">0.7</text><text x="397.20" y="168.52" class="tl">0.8</text><text x="397.20" y="160.12" class="tl">0.9</text><text class="al" text-anchor="middle" transform="translate(406.40 192.35) rotate(-90)">AHR</text></g><text class="cap" text-anchor="middle" transform="translate(345.60 269.80) scale(0.88 1)">(<tspan font-weight="bold">g</tspan>)</text>
<g><circle cx="464.7" cy="154.9" r="1.25" fill="#3b23c0"/><circle cx="482.9" cy="154.9" r="1.25" fill="#1478ee"/><circle cx="473.7" cy="160.3" r="1.25" fill="#f3e01c"/><circle cx="472.9" cy="162.8" r="1.25" fill="#3b23c0"/><circle cx="443.8" cy="169.9" r="1.25" fill="#f6b032"/><circle cx="462.5" cy="171.8" r="1.25" fill="#2a48f0"/><circle cx="458.8" cy="173.3" r="1.25" fill="#1eb38c"/><circle cx="482.3" cy="172.9" r="1.25" fill="#f3e01c"/><circle cx="476.9" cy="175.5" r="1.25" fill="#10a8cf"/><circle cx="476.4" cy="178.3" r="1.25" fill="#2a48f0"/><circle cx="482.3" cy="179.1" r="1.25" fill="#1478ee"/><circle cx="461.4" cy="177.7" r="1.25" fill="#f6b032"/><circle cx="468.8" cy="179.6" r="1.25" fill="#f6b032"/><circle cx="469.9" cy="181.8" r="1.25" fill="#f6b032"/><circle cx="472.6" cy="179.1" r="1.25" fill="#3b23c0"/><circle cx="472.9" cy="180.9" r="1.25" fill="#52b84c"/><circle cx="466.1" cy="180.9" r="1.25" fill="#3b23c0"/><circle cx="457.4" cy="182.0" r="1.25" fill="#f6b032"/><circle cx="459.9" cy="184.0" r="1.25" fill="#2a48f0"/><circle cx="477.3" cy="184.2" r="1.25" fill="#d6a818"/><circle cx="480.5" cy="184.2" r="1.25" fill="#3b23c0"/><circle cx="479.1" cy="185.9" r="1.25" fill="#2a48f0"/><circle cx="479.9" cy="187.8" r="1.25" fill="#2a48f0"/><circle cx="482.3" cy="186.7" r="1.25" fill="#3b23c0"/><circle cx="465.5" cy="186.7" r="1.25" fill="#f6b032"/><circle cx="469.9" cy="187.8" r="1.25" fill="#d6a818"/><circle cx="455.2" cy="187.0" r="1.25" fill="#10a8cf"/><circle cx="457.4" cy="188.1" r="1.25" fill="#f6b032"/><circle cx="458.5" cy="189.9" r="1.25" fill="#2a48f0"/><circle cx="462.3" cy="188.8" r="1.25" fill="#1478ee"/><circle cx="462.1" cy="190.3" r="1.25" fill="#d6a818"/><circle cx="466.8" cy="189.9" r="1.25" fill="#1eb38c"/><circle cx="467.7" cy="191.3" r="1.25" fill="#f3e01c"/><circle cx="471.5" cy="191.0" r="1.25" fill="#10a8cf"/><circle cx="472.3" cy="189.9" r="1.25" fill="#1478ee"/><circle cx="450.9" cy="191.3" r="1.25" fill="#1eb38c"/><circle cx="486.8" cy="157.1" r="1.25" fill="#f3e01c"/><circle cx="492.9" cy="163.9" r="1.25" fill="#10a8cf"/><circle cx="497.7" cy="168.2" r="1.25" fill="#d6a818"/><circle cx="508.5" cy="169.3" r="1.25" fill="#d6a818"/><circle cx="483.6" cy="172.2" r="1.25" fill="#d6a818"/><circle cx="483.6" cy="174.0" r="1.25" fill="#52b84c"/><circle cx="486.4" cy="175.5" r="1.25" fill="#f3e01c"/><circle cx="486.6" cy="177.5" r="1.25" fill="#10a8cf"/><circle cx="490.1" cy="175.5" r="1.25" fill="#1eb38c"/><circle cx="492.0" cy="177.7" r="1.25" fill="#1eb38c"/><circle cx="494.2" cy="174.4" r="1.25" fill="#d6a818"/><circle cx="502.3" cy="175.1" r="1.25" fill="#f6b032"/><circle cx="500.5" cy="178.0" r="1.25" fill="#52b84c"/><circle cx="501.2" cy="177.5" r="1.25" fill="#d6a818"/><circle cx="508.1" cy="178.3" r="1.25" fill="#f3e01c"/><circle cx="485.7" cy="181.8" r="1.25" fill="#f3e01c"/><circle cx="489.8" cy="181.6" r="1.25" fill="#10a8cf"/><circle cx="489.6" cy="183.1" r="1.25" fill="#1478ee"/><circle cx="487.5" cy="184.5" r="1.25" fill="#f3e01c"/><circle cx="496.1" cy="184.2" r="1.25" fill="#f3e01c"/><circle cx="495.3" cy="187.0" r="1.25" fill="#f6b032"/><circle cx="499.6" cy="187.0" r="1.25" fill="#d6a818"/><circle cx="506.1" cy="187.0" r="1.25" fill="#1478ee"/><circle cx="509.4" cy="187.2" r="1.25" fill="#f6b032"/><circle cx="486.4" cy="190.5" r="1.25" fill="#f6b032"/><circle cx="499.1" cy="189.9" r="1.25" fill="#52b84c"/><circle cx="500.9" cy="191.3" r="1.25" fill="#1478ee"/><circle cx="505.0" cy="191.6" r="1.25" fill="#1478ee"/><circle cx="447.3" cy="194.9" r="1.25" fill="#10a8cf"/><circle cx="452.0" cy="194.9" r="1.25" fill="#1478ee"/><circle cx="453.1" cy="195.4" r="1.25" fill="#3b23c0"/><circle cx="452.7" cy="196.3" r="1.25" fill="#52b84c"/><circle cx="458.8" cy="192.7" r="1.25" fill="#f6b032"/><circle cx="461.0" cy="193.3" r="1.25" fill="#52b84c"/><circle cx="462.1" cy="196.5" r="1.25" fill="#1eb38c"/><circle cx="456.6" cy="197.8" r="1.25" fill="#3b23c0"/><circle cx="455.2" cy="198.9" r="1.25" fill="#1eb38c"/><circle cx="458.2" cy="199.5" r="1.25" fill="#52b84c"/><circle cx="461.0" cy="199.2" r="1.25" fill="#f6b032"/><circle cx="471.5" cy="194.9" r="1.25" fill="#3b23c0"/><circle cx="469.7" cy="195.6" r="1.25" fill="#52b84c"/><circle cx="470.4" cy="197.4" r="1.25" fill="#1478ee"/><circle cx="478.0" cy="193.8" r="1.25" fill="#52b84c"/><circle cx="474.8" cy="196.7" r="1.25" fill="#10a8cf"/><circle cx="476.9" cy="198.5" r="1.25" fill="#f3e01c"/><circle cx="470.1" cy="200.8" r="1.25" fill="#2a48f0"/><circle cx="464.2" cy="201.1" r="1.25" fill="#f6b032"/><circle cx="459.2" cy="202.5" r="1.25" fill="#2a48f0"/><circle cx="463.2" cy="203.0" r="1.25" fill="#52b84c"/><circle cx="453.1" cy="203.6" r="1.25" fill="#f6b032"/><circle cx="462.5" cy="205.0" r="1.25" fill="#f6b032"/><circle cx="470.1" cy="204.6" r="1.25" fill="#f3e01c"/><circle cx="471.2" cy="205.0" r="1.25" fill="#10a8cf"/><circle cx="474.8" cy="204.1" r="1.25" fill="#1478ee"/><circle cx="478.8" cy="203.9" r="1.25" fill="#10a8cf"/><circle cx="482.7" cy="202.8" r="1.25" fill="#1eb38c"/><circle cx="467.7" cy="206.1" r="1.25" fill="#1eb38c"/><circle cx="464.7" cy="208.2" r="1.25" fill="#3b23c0"/><circle cx="468.2" cy="208.7" r="1.25" fill="#1eb38c"/><circle cx="450.1" cy="207.9" r="1.25" fill="#52b84c"/><circle cx="474.0" cy="210.1" r="1.25" fill="#52b84c"/><circle cx="458.8" cy="210.8" r="1.25" fill="#f6b032"/><circle cx="465.8" cy="211.5" r="1.25" fill="#f3e01c"/><circle cx="446.2" cy="212.2" r="1.25" fill="#d6a818"/><circle cx="446.9" cy="214.7" r="1.25" fill="#f3e01c"/><circle cx="462.8" cy="214.1" r="1.25" fill="#1478ee"/><circle cx="480.7" cy="212.2" r="1.25" fill="#10a8cf"/><circle cx="475.3" cy="223.6" r="1.25" fill="#2a48f0"/><circle cx="488.5" cy="193.5" r="1.25" fill="#f3e01c"/><circle cx="492.9" cy="193.5" r="1.25" fill="#f6b032"/><circle cx="484.2" cy="198.5" r="1.25" fill="#3b23c0"/><circle cx="487.1" cy="198.9" r="1.25" fill="#3b23c0"/><circle cx="489.8" cy="198.9" r="1.25" fill="#1478ee"/><circle cx="491.8" cy="197.4" r="1.25" fill="#52b84c"/><circle cx="491.1" cy="200.3" r="1.25" fill="#1478ee"/><circle cx="492.9" cy="201.1" r="1.25" fill="#10a8cf"/><circle cx="492.2" cy="202.8" r="1.25" fill="#2a48f0"/><circle cx="483.3" cy="202.5" r="1.25" fill="#1eb38c"/><circle cx="502.0" cy="200.3" r="1.25" fill="#1eb38c"/><circle cx="505.6" cy="200.0" r="1.25" fill="#10a8cf"/><circle cx="505.9" cy="201.9" r="1.25" fill="#52b84c"/><circle cx="510.7" cy="203.2" r="1.25" fill="#d6a818"/><circle cx="484.2" cy="206.1" r="1.25" fill="#3b23c0"/><circle cx="483.6" cy="206.5" r="1.25" fill="#1478ee"/><circle cx="492.0" cy="206.5" r="1.25" fill="#2a48f0"/><circle cx="496.1" cy="209.0" r="1.25" fill="#10a8cf"/><circle cx="495.3" cy="210.1" r="1.25" fill="#d6a818"/><circle cx="504.8" cy="209.7" r="1.25" fill="#1eb38c"/><circle cx="496.6" cy="212.8" r="1.25" fill="#2a48f0"/><circle cx="502.9" cy="212.2" r="1.25" fill="#d6a818"/><circle cx="524.0" cy="214.1" r="1.25" fill="#3b23c0"/><circle cx="522.9" cy="216.6" r="1.25" fill="#2a48f0"/><circle cx="486.4" cy="223.1" r="1.25" fill="#1eb38c"/><circle cx="489.8" cy="223.6" r="1.25" fill="#f3e01c"/><circle cx="505.9" cy="227.4" r="1.25" fill="#f6b032"/><path d="M432.80 151.30V233.50H524.40" fill="none" stroke="#dcdcdc" stroke-width="1.4"/><path d="M432.80 233.50v-0.9M444.25 233.50v-0.9M455.70 233.50v-0.9M467.15 233.50v-0.9M478.60 233.50v-0.9M490.05 233.50v-0.9M501.50 233.50v-0.9M512.95 233.50v-0.9M524.40 233.50v-0.9M432.80 233.50h0.9M432.80 223.22h0.9M432.80 212.95h0.9M432.80 202.68h0.9M432.80 192.40h0.9M432.80 182.12h0.9M432.80 171.85h0.9M432.80 161.58h0.9M432.80 151.30h0.9" stroke="#909090" stroke-width="0.5"/><rect x="529.00" y="151.30" width="5.20" height="82.20" fill="url(#par)"/></g><g filter="url(#bl)"><text x="432.80" y="238.30" class="tl" text-anchor="middle">-0.8</text><text x="444.25" y="238.30" class="tl" text-anchor="middle">-0.6</text><text x="455.70" y="238.30" class="tl" text-anchor="middle">-0.4</text><text x="467.15" y="238.30" class="tl" text-anchor="middle">-0.2</text><text x="478.60" y="238.30" class="tl" text-anchor="middle">0</text><text x="490.05" y="238.30" class="tl" text-anchor="middle">0.2</text><text x="501.50" y="238.30" class="tl" text-anchor="middle">0.4</text><text x="512.95" y="238.30" class="tl" text-anchor="middle">0.6</text><text x="524.40" y="238.30" class="tl" text-anchor="middle">0.8</text><text x="431.10" y="235.30" class="tl" text-anchor="end">-0.8</text><text x="431.10" y="225.03" class="tl" text-anchor="end">-0.6</text><text x="431.10" y="214.75" class="tl" text-anchor="end">-0.4</text><text x="431.10" y="204.48" class="tl" text-anchor="end">-0.2</text><text x="431.10" y="194.20" class="tl" text-anchor="end">0</text><text x="431.10" y="183.93" class="tl" text-anchor="end">0.2</text><text x="431.10" y="173.65" class="tl" text-anchor="end">0.4</text><text x="431.10" y="163.38" class="tl" text-anchor="end">0.6</text><text x="431.10" y="153.10" class="tl" text-anchor="end">0.8</text><text x="478.60" y="242.70" class="al" text-anchor="middle">Feature 1</text><text class="al" text-anchor="middle" transform="translate(424.80 192.40) rotate(-90)">Feature 2</text><text x="535.50" y="227.56" class="tl">0.1</text><text x="535.50" y="219.12" class="tl">0.2</text><text x="535.50" y="210.68" class="tl">0.3</text><text x="535.50" y="202.24" class="tl">0.4</text><text x="535.50" y="193.80" class="tl">0.5</text><text x="535.50" y="185.36" class="tl">0.6</text><text x="535.50" y="176.92" class="tl">0.7</text><text x="535.50" y="168.48" class="tl">0.8</text><text x="535.50" y="160.04" class="tl">0.9</text><text class="al" text-anchor="middle" transform="translate(544.70 192.40) rotate(-90)">AHR</text></g><text class="cap" text-anchor="middle" transform="translate(484.60 269.80) scale(0.88 1)">(<tspan font-weight="bold">h</tspan>)</text>
<g><circle cx="185.2" cy="301.2" r="1.25" fill="#10a8cf"/><circle cx="188.8" cy="302.6" r="1.25" fill="#d6a818"/><circle cx="174.0" cy="309.1" r="1.25" fill="#2a48f0"/><circle cx="178.6" cy="315.3" r="1.25" fill="#f3e01c"/><circle cx="185.2" cy="314.2" r="1.25" fill="#1eb38c"/><circle cx="202.7" cy="315.3" r="1.25" fill="#1eb38c"/><circle cx="175.6" cy="318.2" r="1.25" fill="#f6b032"/><circle cx="198.6" cy="318.2" r="1.25" fill="#2a48f0"/><circle cx="201.9" cy="318.0" r="1.25" fill="#2a48f0"/><circle cx="203.3" cy="321.1" r="1.25" fill="#2a48f0"/><circle cx="204.7" cy="323.5" r="1.25" fill="#52b84c"/><circle cx="204.5" cy="325.0" r="1.25" fill="#d6a818"/><circle cx="178.6" cy="323.7" r="1.25" fill="#f6b032"/><circle cx="185.6" cy="324.0" r="1.25" fill="#1eb38c"/><circle cx="189.5" cy="322.2" r="1.25" fill="#3b23c0"/><circle cx="191.0" cy="322.6" r="1.25" fill="#2a48f0"/><circle cx="188.8" cy="325.8" r="1.25" fill="#f6b032"/><circle cx="197.3" cy="324.8" r="1.25" fill="#10a8cf"/><circle cx="200.2" cy="328.0" r="1.25" fill="#1478ee"/><circle cx="200.8" cy="331.2" r="1.25" fill="#f6b032"/><circle cx="157.2" cy="331.6" r="1.25" fill="#10a8cf"/><circle cx="168.9" cy="331.9" r="1.25" fill="#3b23c0"/><circle cx="168.9" cy="333.2" r="1.25" fill="#f3e01c"/><circle cx="174.0" cy="332.7" r="1.25" fill="#f6b032"/><circle cx="178.0" cy="333.0" r="1.25" fill="#1478ee"/><circle cx="176.7" cy="335.2" r="1.25" fill="#52b84c"/><circle cx="197.8" cy="332.3" r="1.25" fill="#1eb38c"/><circle cx="198.4" cy="334.3" r="1.25" fill="#1478ee"/><circle cx="199.7" cy="335.9" r="1.25" fill="#2a48f0"/><circle cx="201.1" cy="336.3" r="1.25" fill="#3b23c0"/><circle cx="193.5" cy="334.5" r="1.25" fill="#d6a818"/><circle cx="193.0" cy="335.4" r="1.25" fill="#1478ee"/><circle cx="189.9" cy="335.9" r="1.25" fill="#f6b032"/><circle cx="168.6" cy="336.5" r="1.25" fill="#f6b032"/><circle cx="171.1" cy="336.7" r="1.25" fill="#3b23c0"/><circle cx="160.2" cy="338.0" r="1.25" fill="#d6a818"/><circle cx="215.0" cy="302.0" r="1.25" fill="#1eb38c"/><circle cx="211.7" cy="311.7" r="1.25" fill="#1eb38c"/><circle cx="210.8" cy="313.1" r="1.25" fill="#1eb38c"/><circle cx="210.3" cy="314.6" r="1.25" fill="#1eb38c"/><circle cx="219.0" cy="311.3" r="1.25" fill="#3b23c0"/><circle cx="215.0" cy="314.2" r="1.25" fill="#1478ee"/><circle cx="213.9" cy="315.6" r="1.25" fill="#2a48f0"/><circle cx="219.5" cy="317.8" r="1.25" fill="#f3e01c"/><circle cx="215.7" cy="320.7" r="1.25" fill="#3b23c0"/><circle cx="223.3" cy="320.4" r="1.25" fill="#3b23c0"/><circle cx="220.1" cy="323.5" r="1.25" fill="#1478ee"/><circle cx="220.8" cy="324.3" r="1.25" fill="#2a48f0"/><circle cx="223.0" cy="324.8" r="1.25" fill="#d6a818"/><circle cx="224.4" cy="324.0" r="1.25" fill="#2a48f0"/><circle cx="226.2" cy="324.3" r="1.25" fill="#2a48f0"/><circle cx="215.2" cy="324.8" r="1.25" fill="#f3e01c"/><circle cx="235.6" cy="326.9" r="1.25" fill="#10a8cf"/><circle cx="217.6" cy="329.7" r="1.25" fill="#2a48f0"/><circle cx="228.4" cy="332.1" r="1.25" fill="#3b23c0"/><circle cx="206.0" cy="336.7" r="1.25" fill="#2a48f0"/><circle cx="213.6" cy="336.7" r="1.25" fill="#1478ee"/><circle cx="217.4" cy="335.2" r="1.25" fill="#10a8cf"/><circle cx="222.2" cy="337.0" r="1.25" fill="#d6a818"/><circle cx="224.1" cy="335.9" r="1.25" fill="#2a48f0"/><circle cx="171.8" cy="338.7" r="1.25" fill="#10a8cf"/><circle cx="185.9" cy="339.3" r="1.25" fill="#52b84c"/><circle cx="191.0" cy="339.0" r="1.25" fill="#d6a818"/><circle cx="197.3" cy="340.1" r="1.25" fill="#f6b032"/><circle cx="183.7" cy="341.6" r="1.25" fill="#2a48f0"/><circle cx="182.7" cy="342.5" r="1.25" fill="#52b84c"/><circle cx="186.7" cy="342.7" r="1.25" fill="#1478ee"/><circle cx="187.3" cy="343.4" r="1.25" fill="#10a8cf"/><circle cx="190.8" cy="344.5" r="1.25" fill="#2a48f0"/><circle cx="192.4" cy="343.8" r="1.25" fill="#1478ee"/><circle cx="196.8" cy="343.8" r="1.25" fill="#3b23c0"/><circle cx="203.6" cy="342.7" r="1.25" fill="#10a8cf"/><circle cx="177.6" cy="346.0" r="1.25" fill="#1478ee"/><circle cx="198.9" cy="346.6" r="1.25" fill="#f6b032"/><circle cx="191.0" cy="348.1" r="1.25" fill="#d6a818"/><circle cx="190.8" cy="349.6" r="1.25" fill="#52b84c"/><circle cx="202.9" cy="349.2" r="1.25" fill="#2a48f0"/><circle cx="204.3" cy="348.8" r="1.25" fill="#10a8cf"/><circle cx="170.7" cy="349.9" r="1.25" fill="#52b84c"/><circle cx="174.3" cy="350.1" r="1.25" fill="#3b23c0"/><circle cx="179.4" cy="352.1" r="1.25" fill="#f3e01c"/><circle cx="184.8" cy="351.7" r="1.25" fill="#f3e01c"/><circle cx="198.2" cy="352.3" r="1.25" fill="#f6b032"/><circle cx="159.1" cy="354.2" r="1.25" fill="#f6b032"/><circle cx="166.7" cy="353.4" r="1.25" fill="#2a48f0"/><circle cx="172.1" cy="354.4" r="1.25" fill="#f6b032"/><circle cx="195.7" cy="353.9" r="1.25" fill="#3b23c0"/><circle cx="194.6" cy="355.0" r="1.25" fill="#52b84c"/><circle cx="198.4" cy="356.4" r="1.25" fill="#52b84c"/><circle cx="181.2" cy="356.8" r="1.25" fill="#1478ee"/><circle cx="201.1" cy="361.2" r="1.25" fill="#f3e01c"/><circle cx="196.4" cy="362.9" r="1.25" fill="#3b23c0"/><circle cx="173.7" cy="365.3" r="1.25" fill="#2a48f0"/><circle cx="184.1" cy="368.3" r="1.25" fill="#10a8cf"/><circle cx="189.9" cy="366.6" r="1.25" fill="#1eb38c"/><circle cx="191.0" cy="367.5" r="1.25" fill="#10a8cf"/><circle cx="204.6" cy="368.3" r="1.25" fill="#f6b032"/><circle cx="223.3" cy="338.0" r="1.25" fill="#f3e01c"/><circle cx="224.7" cy="338.7" r="1.25" fill="#3b23c0"/><circle cx="210.3" cy="339.0" r="1.25" fill="#52b84c"/><circle cx="215.7" cy="340.3" r="1.25" fill="#2a48f0"/><circle cx="220.1" cy="341.4" r="1.25" fill="#2a48f0"/><circle cx="229.5" cy="340.9" r="1.25" fill="#d6a818"/><circle cx="235.2" cy="340.9" r="1.25" fill="#3b23c0"/><circle cx="217.6" cy="343.4" r="1.25" fill="#1478ee"/><circle cx="224.1" cy="343.4" r="1.25" fill="#f3e01c"/><circle cx="232.3" cy="343.6" r="1.25" fill="#10a8cf"/><circle cx="217.4" cy="345.5" r="1.25" fill="#f6b032"/><circle cx="238.0" cy="348.1" r="1.25" fill="#2a48f0"/><circle cx="217.9" cy="349.9" r="1.25" fill="#52b84c"/><circle cx="219.0" cy="351.7" r="1.25" fill="#2a48f0"/><circle cx="220.8" cy="352.8" r="1.25" fill="#f3e01c"/><circle cx="223.3" cy="349.6" r="1.25" fill="#3b23c0"/><circle cx="226.0" cy="349.9" r="1.25" fill="#10a8cf"/><circle cx="212.1" cy="351.7" r="1.25" fill="#52b84c"/><circle cx="212.8" cy="353.1" r="1.25" fill="#1eb38c"/><circle cx="215.2" cy="356.6" r="1.25" fill="#1eb38c"/><circle cx="213.2" cy="358.2" r="1.25" fill="#2a48f0"/><circle cx="210.0" cy="358.6" r="1.25" fill="#d6a818"/><circle cx="206.7" cy="358.2" r="1.25" fill="#1478ee"/><circle cx="220.1" cy="359.6" r="1.25" fill="#10a8cf"/><circle cx="234.5" cy="356.4" r="1.25" fill="#f6b032"/><circle cx="229.5" cy="360.1" r="1.25" fill="#f6b032"/><circle cx="229.5" cy="362.6" r="1.25" fill="#2a48f0"/><circle cx="209.5" cy="362.6" r="1.25" fill="#1478ee"/><circle cx="225.8" cy="372.7" r="1.25" fill="#1eb38c"/><path d="M155.30 297.40V379.40H247.00" fill="none" stroke="#dcdcdc" stroke-width="1.4"/><path d="M155.30 379.40v-0.9M166.76 379.40v-0.9M178.23 379.40v-0.9M189.69 379.40v-0.9M201.15 379.40v-0.9M212.61 379.40v-0.9M224.08 379.40v-0.9M235.54 379.40v-0.9M247.00 379.40v-0.9M155.30 379.40h0.9M155.30 369.15h0.9M155.30 358.90h0.9M155.30 348.65h0.9M155.30 338.40h0.9M155.30 328.15h0.9M155.30 317.90h0.9M155.30 307.65h0.9M155.30 297.40h0.9" stroke="#909090" stroke-width="0.5"/><rect x="252.00" y="297.40" width="5.00" height="82.00" fill="url(#par)"/></g><g filter="url(#bl)"><text x="155.30" y="384.20" class="tl" text-anchor="middle">-0.8</text><text x="166.76" y="384.20" class="tl" text-anchor="middle">-0.6</text><text x="178.23" y="384.20" class="tl" text-anchor="middle">-0.4</text><text x="189.69" y="384.20" class="tl" text-anchor="middle">-0.2</text><text x="201.15" y="384.20" class="tl" text-anchor="middle">0</text><text x="212.61" y="384.20" class="tl" text-anchor="middle">0.2</text><text x="224.08" y="384.20" class="tl" text-anchor="middle">0.4</text><text x="235.54" y="384.20" class="tl" text-anchor="middle">0.6</text><text x="247.00" y="384.20" class="tl" text-anchor="middle">0.8</text><text x="153.60" y="381.20" class="tl" text-anchor="end">-0.8</text><text x="153.60" y="370.95" class="tl" text-anchor="end">-0.6</text><text x="153.60" y="360.70" class="tl" text-anchor="end">-0.4</text><text x="153.60" y="350.45" class="tl" text-anchor="end">-0.2</text><text x="153.60" y="340.20" class="tl" text-anchor="end">0</text><text x="153.60" y="329.95" class="tl" text-anchor="end">0.2</text><text x="153.60" y="319.70" class="tl" text-anchor="end">0.4</text><text x="153.60" y="309.45" class="tl" text-anchor="end">0.6</text><text x="153.60" y="299.20" class="tl" text-anchor="end">0.8</text><text x="201.15" y="388.60" class="al" text-anchor="middle">Feature 1</text><text class="al" text-anchor="middle" transform="translate(147.30 338.40) rotate(-90)">Feature 2</text><text x="258.30" y="373.48" class="tl">0.1</text><text x="258.30" y="365.06" class="tl">0.2</text><text x="258.30" y="356.64" class="tl">0.3</text><text x="258.30" y="348.22" class="tl">0.4</text><text x="258.30" y="339.80" class="tl">0.5</text><text x="258.30" y="331.38" class="tl">0.6</text><text x="258.30" y="322.96" class="tl">0.7</text><text x="258.30" y="314.54" class="tl">0.8</text><text x="258.30" y="306.12" class="tl">0.9</text><text class="al" text-anchor="middle" transform="translate(267.50 338.40) rotate(-90)">AHR</text></g><text class="cap" text-anchor="middle" transform="translate(207.30 416.10) scale(0.88 1)">(<tspan font-weight="bold">i</tspan>)</text>
<g><circle cx="319.8" cy="304.5" r="1.25" fill="#f3e01c"/><circle cx="318.4" cy="307.2" r="1.25" fill="#f6b032"/><circle cx="332.8" cy="305.0" r="1.25" fill="#f3e01c"/><circle cx="332.0" cy="311.7" r="1.25" fill="#f6b032"/><circle cx="334.7" cy="313.9" r="1.25" fill="#d6a818"/><circle cx="333.3" cy="315.0" r="1.25" fill="#2a48f0"/><circle cx="317.6" cy="314.8" r="1.25" fill="#1eb38c"/><circle cx="327.1" cy="315.6" r="1.25" fill="#2a48f0"/><circle cx="342.6" cy="318.6" r="1.25" fill="#d6a818"/><circle cx="302.1" cy="322.6" r="1.25" fill="#1478ee"/><circle cx="326.8" cy="322.6" r="1.25" fill="#d6a818"/><circle cx="323.5" cy="324.0" r="1.25" fill="#2a48f0"/><circle cx="340.9" cy="324.3" r="1.25" fill="#f6b032"/><circle cx="319.8" cy="327.8" r="1.25" fill="#f6b032"/><circle cx="326.5" cy="327.2" r="1.25" fill="#1eb38c"/><circle cx="327.8" cy="327.6" r="1.25" fill="#1eb38c"/><circle cx="307.2" cy="329.4" r="1.25" fill="#d6a818"/><circle cx="337.9" cy="328.9" r="1.25" fill="#f3e01c"/><circle cx="316.2" cy="331.3" r="1.25" fill="#2a48f0"/><circle cx="316.6" cy="332.7" r="1.25" fill="#10a8cf"/><circle cx="326.8" cy="330.8" r="1.25" fill="#52b84c"/><circle cx="328.9" cy="330.8" r="1.25" fill="#1478ee"/><circle cx="331.1" cy="332.7" r="1.25" fill="#1eb38c"/><circle cx="323.1" cy="334.1" r="1.25" fill="#1478ee"/><circle cx="318.1" cy="335.2" r="1.25" fill="#d6a818"/><circle cx="327.4" cy="335.2" r="1.25" fill="#d6a818"/><circle cx="335.4" cy="335.2" r="1.25" fill="#1478ee"/><circle cx="307.0" cy="336.3" r="1.25" fill="#1478ee"/><circle cx="320.9" cy="336.7" r="1.25" fill="#f6b032"/><circle cx="324.9" cy="337.6" r="1.25" fill="#2a48f0"/><circle cx="328.7" cy="337.6" r="1.25" fill="#1eb38c"/><circle cx="337.4" cy="337.6" r="1.25" fill="#52b84c"/><circle cx="346.0" cy="308.5" r="1.25" fill="#1478ee"/><circle cx="350.0" cy="311.3" r="1.25" fill="#10a8cf"/><circle cx="347.8" cy="313.1" r="1.25" fill="#2a48f0"/><circle cx="344.9" cy="315.6" r="1.25" fill="#2a48f0"/><circle cx="353.9" cy="320.0" r="1.25" fill="#1eb38c"/><circle cx="359.7" cy="317.0" r="1.25" fill="#d6a818"/><circle cx="365.2" cy="317.0" r="1.25" fill="#f6b032"/><circle cx="370.4" cy="317.0" r="1.25" fill="#2a48f0"/><circle cx="372.8" cy="318.6" r="1.25" fill="#f3e01c"/><circle cx="375.6" cy="317.8" r="1.25" fill="#10a8cf"/><circle cx="377.4" cy="321.1" r="1.25" fill="#d6a818"/><circle cx="359.7" cy="325.8" r="1.25" fill="#3b23c0"/><circle cx="362.2" cy="326.5" r="1.25" fill="#52b84c"/><circle cx="363.0" cy="326.5" r="1.25" fill="#1478ee"/><circle cx="362.2" cy="329.4" r="1.25" fill="#1eb38c"/><circle cx="353.9" cy="329.1" r="1.25" fill="#f3e01c"/><circle cx="355.2" cy="329.7" r="1.25" fill="#10a8cf"/><circle cx="356.8" cy="330.5" r="1.25" fill="#3b23c0"/><circle cx="350.0" cy="331.6" r="1.25" fill="#1eb38c"/><circle cx="353.2" cy="331.9" r="1.25" fill="#d6a818"/><circle cx="354.6" cy="333.0" r="1.25" fill="#d6a818"/><circle cx="355.7" cy="333.8" r="1.25" fill="#2a48f0"/><circle cx="345.6" cy="332.3" r="1.25" fill="#d6a818"/><circle cx="360.8" cy="334.1" r="1.25" fill="#1eb38c"/><circle cx="360.1" cy="336.3" r="1.25" fill="#f3e01c"/><circle cx="360.6" cy="336.9" r="1.25" fill="#52b84c"/><circle cx="385.6" cy="334.1" r="1.25" fill="#2a48f0"/><circle cx="323.1" cy="338.7" r="1.25" fill="#10a8cf"/><circle cx="324.2" cy="340.1" r="1.25" fill="#10a8cf"/><circle cx="306.1" cy="340.6" r="1.25" fill="#2a48f0"/><circle cx="305.7" cy="343.0" r="1.25" fill="#2a48f0"/><circle cx="322.0" cy="342.0" r="1.25" fill="#1478ee"/><circle cx="326.0" cy="342.7" r="1.25" fill="#2a48f0"/><circle cx="327.8" cy="340.9" r="1.25" fill="#10a8cf"/><circle cx="335.4" cy="341.4" r="1.25" fill="#1eb38c"/><circle cx="311.9" cy="343.8" r="1.25" fill="#52b84c"/><circle cx="318.1" cy="343.8" r="1.25" fill="#52b84c"/><circle cx="316.2" cy="345.2" r="1.25" fill="#f3e01c"/><circle cx="318.1" cy="347.4" r="1.25" fill="#10a8cf"/><circle cx="327.8" cy="346.3" r="1.25" fill="#2a48f0"/><circle cx="326.8" cy="347.7" r="1.25" fill="#d6a818"/><circle cx="327.4" cy="349.0" r="1.25" fill="#1478ee"/><circle cx="328.7" cy="349.9" r="1.25" fill="#1478ee"/><circle cx="330.7" cy="350.1" r="1.25" fill="#f6b032"/><circle cx="341.2" cy="343.8" r="1.25" fill="#1478ee"/><circle cx="340.1" cy="344.5" r="1.25" fill="#2a48f0"/><circle cx="339.3" cy="345.8" r="1.25" fill="#10a8cf"/><circle cx="337.9" cy="346.8" r="1.25" fill="#d6a818"/><circle cx="314.8" cy="349.0" r="1.25" fill="#f6b032"/><circle cx="310.3" cy="349.9" r="1.25" fill="#3b23c0"/><circle cx="308.1" cy="351.0" r="1.25" fill="#52b84c"/><circle cx="300.3" cy="352.5" r="1.25" fill="#f3e01c"/><circle cx="302.9" cy="352.8" r="1.25" fill="#52b84c"/><circle cx="310.3" cy="355.3" r="1.25" fill="#1478ee"/><circle cx="326.3" cy="352.8" r="1.25" fill="#f3e01c"/><circle cx="327.8" cy="353.9" r="1.25" fill="#2a48f0"/><circle cx="331.7" cy="353.6" r="1.25" fill="#3b23c0"/><circle cx="342.3" cy="355.7" r="1.25" fill="#f6b032"/><circle cx="332.0" cy="360.1" r="1.25" fill="#1478ee"/><circle cx="330.9" cy="361.8" r="1.25" fill="#52b84c"/><circle cx="321.3" cy="365.3" r="1.25" fill="#d6a818"/><circle cx="332.0" cy="365.8" r="1.25" fill="#f3e01c"/><circle cx="339.3" cy="366.2" r="1.25" fill="#3b23c0"/><circle cx="351.7" cy="339.0" r="1.25" fill="#1eb38c"/><circle cx="352.5" cy="340.1" r="1.25" fill="#52b84c"/><circle cx="357.9" cy="339.3" r="1.25" fill="#f3e01c"/><circle cx="368.4" cy="339.5" r="1.25" fill="#10a8cf"/><circle cx="371.7" cy="341.4" r="1.25" fill="#10a8cf"/><circle cx="363.3" cy="342.7" r="1.25" fill="#1478ee"/><circle cx="351.1" cy="343.8" r="1.25" fill="#1478ee"/><circle cx="372.0" cy="345.2" r="1.25" fill="#1eb38c"/><circle cx="377.4" cy="346.8" r="1.25" fill="#1eb38c"/><circle cx="346.7" cy="347.4" r="1.25" fill="#52b84c"/><circle cx="352.8" cy="347.1" r="1.25" fill="#3b23c0"/><circle cx="366.9" cy="347.7" r="1.25" fill="#2a48f0"/><circle cx="346.7" cy="349.9" r="1.25" fill="#f3e01c"/><circle cx="371.5" cy="349.6" r="1.25" fill="#2a48f0"/><circle cx="374.2" cy="348.8" r="1.25" fill="#3b23c0"/><circle cx="350.0" cy="352.5" r="1.25" fill="#2a48f0"/><circle cx="348.9" cy="353.6" r="1.25" fill="#1478ee"/><circle cx="359.0" cy="351.7" r="1.25" fill="#f3e01c"/><circle cx="362.2" cy="351.4" r="1.25" fill="#d6a818"/><circle cx="356.8" cy="354.7" r="1.25" fill="#d6a818"/><circle cx="371.7" cy="354.2" r="1.25" fill="#2a48f0"/><circle cx="352.8" cy="359.3" r="1.25" fill="#1478ee"/><circle cx="355.0" cy="360.1" r="1.25" fill="#3b23c0"/><circle cx="353.2" cy="366.9" r="1.25" fill="#10a8cf"/><circle cx="352.8" cy="370.9" r="1.25" fill="#2a48f0"/><circle cx="353.9" cy="372.0" r="1.25" fill="#1478ee"/><circle cx="362.2" cy="370.5" r="1.25" fill="#2a48f0"/><circle cx="366.0" cy="379.2" r="1.25" fill="#10a8cf"/><path d="M294.50 297.30V379.30H385.40" fill="none" stroke="#dcdcdc" stroke-width="1.4"/><path d="M294.50 379.30v-0.9M305.86 379.30v-0.9M317.23 379.30v-0.9M328.59 379.30v-0.9M339.95 379.30v-0.9M351.31 379.30v-0.9M362.68 379.30v-0.9M374.04 379.30v-0.9M385.40 379.30v-0.9M294.50 379.30h0.9M294.50 369.05h0.9M294.50 358.80h0.9M294.50 348.55h0.9M294.50 338.30h0.9M294.50 328.05h0.9M294.50 317.80h0.9M294.50 307.55h0.9M294.50 297.30h0.9" stroke="#909090" stroke-width="0.5"/><rect x="390.30" y="297.30" width="5.60" height="82.00" fill="url(#par)"/></g><g filter="url(#bl)"><text x="294.50" y="384.10" class="tl" text-anchor="middle">-0.8</text><text x="305.86" y="384.10" class="tl" text-anchor="middle">-0.6</text><text x="317.23" y="384.10" class="tl" text-anchor="middle">-0.4</text><text x="328.59" y="384.10" class="tl" text-anchor="middle">-0.2</text><text x="339.95" y="384.10" class="tl" text-anchor="middle">0</text><text x="351.31" y="384.10" class="tl" text-anchor="middle">0.2</text><text x="362.68" y="384.10" class="tl" text-anchor="middle">0.4</text><text x="374.04" y="384.10" class="tl" text-anchor="middle">0.6</text><text x="385.40" y="384.10" class="tl" text-anchor="middle">0.8</text><text x="292.80" y="381.10" class="tl" text-anchor="end">-0.8</text><text x="292.80" y="370.85" class="tl" text-anchor="end">-0.6</text><text x="292.80" y="360.60" class="tl" text-anchor="end">-0.4</text><text x="292.80" y="350.35" class="tl" text-anchor="end">-0.2</text><text x="292.80" y="340.10" class="tl" text-anchor="end">0</text><text x="292.80" y="329.85" class="tl" text-anchor="end">0.2</text><text x="292.80" y="319.60" class="tl" text-anchor="end">0.4</text><text x="292.80" y="309.35" class="tl" text-anchor="end">0.6</text><text x="292.80" y="299.10" class="tl" text-anchor="end">0.8</text><text x="339.95" y="388.50" class="al" text-anchor="middle">Feature 1</text><text class="al" text-anchor="middle" transform="translate(286.50 338.30) rotate(-90)">Feature 2</text><text x="397.20" y="373.38" class="tl">0.1</text><text x="397.20" y="364.96" class="tl">0.2</text><text x="397.20" y="356.54" class="tl">0.3</text><text x="397.20" y="348.12" class="tl">0.4</text><text x="397.20" y="339.70" class="tl">0.5</text><text x="397.20" y="331.28" class="tl">0.6</text><text x="397.20" y="322.86" class="tl">0.7</text><text x="397.20" y="314.44" class="tl">0.8</text><text x="397.20" y="306.02" class="tl">0.9</text><text class="al" text-anchor="middle" transform="translate(406.40 338.30) rotate(-90)">AHR</text></g><text class="cap" text-anchor="middle" transform="translate(345.80 416.10) scale(0.88 1)">(<tspan font-weight="bold">j</tspan>)</text>
</svg>
</body></html>
